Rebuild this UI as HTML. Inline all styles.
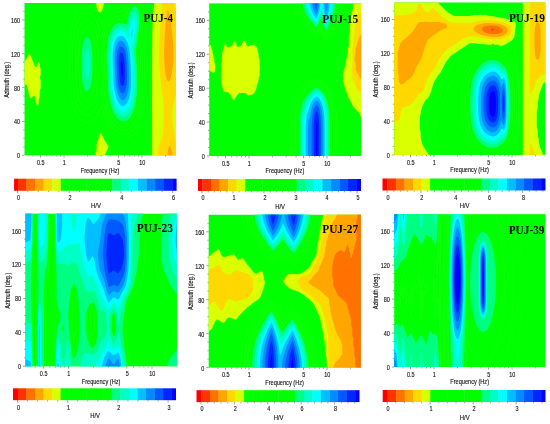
<!DOCTYPE html>
<html lang="en"><head><meta charset="utf-8"><title>H/V rotate spectra</title>
<style>
html,body{margin:0;padding:0;background:#fff;}
body{width:550px;height:424px;overflow:hidden;}
svg{display:block;}
.t{font-family:"Liberation Sans","DejaVu Sans",sans-serif;font-size:7.4px;fill:#111;stroke:#222;stroke-width:0.15px;}
.ttl{font-family:"Liberation Serif","DejaVu Serif",serif;font-weight:bold;font-size:12px;fill:#000;}
</style></head><body>
<svg width="550" height="424" viewBox="0 0 550 424" shape-rendering="geometricPrecision">
<rect width="550" height="424" fill="#ffffff"/>
<g id="p1">
<rect x="24.5" y="3.0" width="151.5" height="152.3" fill="#00ff00"/>
<path fill="none" stroke="#5cff3a" stroke-opacity="0.4" stroke-width="0.45" d="M94.9 3L95.7 5.5L96.2 9L97.2 11L99.7 13.7L100.8 13.7L101.4 13L103.5 9L104.5 6L104.6 3M152.8 3L151.1 18L150.7 31.1L150.4 155.3M24.5 85.1L25.5 85.5L26.5 86.7L26.8 89.2L27.6 91.2L27.8 94.2L28.8 97.2L31.5 99.6L33.5 97.2L34.6 98.2L34.8 102.2L35.8 105.2L37.5 108.4L39.3 105.2L39.4 100.2L40.3 98.2L40.4 91.2L41.3 89.2L41.4 80.2L40.9 77.1L41.3 76.1L41.4 69.1L40.4 66.1L40.3 62.1L38.5 58.9L36.8 63.1L36.5 64.7L35.5 65.3L32.5 58.6L32.3 57.1L29.5 52.7L27.8 54.1L24.5 60.3M105.7 155.3L109.5 147.3L109.5 146.3L105.8 140.9L101.8 133L100.8 131.8L99 133.3L98 136.3L97.7 138.8L96 143.3L95.8 149.3L95 151.3L94.9 155.3M147.2 3L147.8 10L147.5 19L143.9 50.1L144.9 70.5L145.2 90.2L144.5 103.2L143 113.2L140.2 123.2L138.9 126.4L135.9 131.6L132.9 135L129.8 137.3L127.8 138.2L123.8 138.9L119.8 138.2L115.8 135.9L111.8 131.9L109.9 129.2L107.2 124.2L104.6 117.2L101.8 105.5L100.8 106.6L98.7 112.2L96.5 116.2L93.7 119.6L90.7 121.8L87.7 122.6L84.4 122.2L81 120.2L79 118.2L76.9 115.2L74.9 111.2L71.9 101.2L70.1 87.2L69.5 73.1L69.7 49.1L70 42.1L71.1 31.1L73.7 20L76.2 14L78.7 10.1L82 7L84.7 5.7L86.7 5.3L88.7 5.5L92 7L94.3 9L98.3 15L100.3 20L101.8 25.2L105.3 18L109.8 12.2L112.8 9.9L114.8 8.9L120.8 7.6L122.8 4.8L123.4 3M144.9 3L145.8 13L145.4 22L141.9 50.1L143.2 81.2L143 95.2L142 106.2L139.3 118.2L135.7 126.2L132.8 130.3L130.9 132.1L127.8 133.9L123.8 134.7L119.8 134L115.8 131.4L111.4 126.2L108.7 121.2L106.1 114.2L104.1 106.2L101.7 88.2L100.8 87.8L99.6 96.2L97.7 103.6L95.3 109.2L92.4 113.2L90.7 114.6L88.7 115.5L85.7 115.6L82.7 114.1L79.3 110.2L76.1 103.2L73.7 91.5L72.6 74.1L72.6 51.1L73.4 39.1L74 34.1L75.7 26L76.7 23L79.1 18L82.5 14L85.7 12.4L88.7 12.5L91.7 14.2L94.2 17L96.5 21L98.3 26L99.8 33.1L100.8 40.2L104.4 26L107.9 19L110.8 15.5L113.8 13.2L117.8 11.6L122.8 11.2L125.8 3M142.2 3L143.4 9L143.7 17L142.6 30.1L139.9 50.1L140.6 63.1L141.2 84.2L140.9 95.2L139.9 105.2L138.7 111.2L137.3 116.2L135.6 120.2L133.4 124.2L130.9 127.2L128.8 128.8L125.8 130.2L122.8 130.4L119.8 129.6L117.8 128.4L113.7 124.2L109.8 117.3L106.8 108.1L104.8 97.4L103.6 85.2L102.6 61.1L102.7 48.1L103.2 41.1L104.4 34.1L106.2 28L108.6 23L111.8 18.9L115.8 16L119.8 15L123.8 15.6L124.7 14L126.7 7L128.5 3M85.7 19.9L88.7 20.1L90.7 21.4L92.9 24L95.2 29.1L96.5 34.1L97.5 40.1L98.4 56.1L98.2 80.2L97.5 88.2L96.5 94.2L94.7 100.1L92.7 104.2L89.7 107.4L86.7 108.3L84.7 107.7L82 105.2L80.2 102.2L78.6 98.2L77.3 93.2L76.4 87.2L75.6 71.1L75.8 49.1L76.4 41.1L77.3 35.1L78.7 29.5L80.7 24.8L82.7 21.9L85.7 19.9M138.7 3L139.9 5.1L140.9 8.4L141.6 17L140.7 30.1L137.8 50.1L138.6 61.1L139.2 82.2L139 92.2L138.2 101.2L136.2 111.2L134.8 115.2L132.9 119.2L130.7 122.2L127.8 124.7L125.8 125.6L122.8 125.9L119.8 125L117.8 123.7L113.9 119.2L110.8 112.9L108.2 104.2L106.5 94.2L105.3 81.2L104.5 59.1L104.9 46.1L105.5 40.1L106.8 34.1L108.5 29.1L110.7 25L113.8 21.4L116.8 19.5L120.8 18.8L124.8 19.9L125.6 19L127.1 13L128.8 8L132 3M86.7 27.9L88.7 28.4L90.7 30.4L92.5 34.1L93.7 38.1L95.1 48.1L95.4 64.1L95.1 80.2L93.6 90.2L92.4 94.2L90.7 97.6L88.7 99.6L86.7 100.1L84.7 99.2L83 97.2L81.7 94.5L80.4 90.2L78.9 80.2L78.6 64.1L78.9 48.1L80.3 38.1L81.5 34.1L82.9 31.1L84.7 28.8L86.7 27.9"/>
<path fill="#00ff80" d="M133.9 6.6L134.9 6.3L135.9 6.5L136.9 7.2L137.9 8.6L139 12L139.5 17L139.4 23L138.7 30.1L137.2 42.1L135.8 49.1L136.5 61.1L137.1 78.1L137.1 88.2L136.6 96.2L135.9 101.7L134.9 106.6L133.4 111.2L131.9 114.7L129.8 117.8L127.8 119.7L125.8 120.9L124.8 121.2L122.8 121.3L120.8 120.8L118.8 119.6L116.8 117.7L115 115.2L113.4 112.2L112.1 109.2L110.8 105.2L109.8 101.1L108.9 96.2L108.2 91.2L107.2 79.2L106.5 58.1L106.6 52.1L107 46.1L107.8 40.2L108.8 35.9L110.5 31.1L112.2 28L113.8 26L114.8 25L116.8 23.6L118.8 22.9L120.8 22.7L122.8 23.1L124.8 24L125.8 24.7L126.7 24L128.2 17L129.8 12L130.9 9.9L131.9 8.3L132.9 7.3ZM85.7 37.6L86.7 37.1L87.7 37.3L88.7 38L89.7 39.6L90.7 42.1L91.8 48.1L92.4 57.1L92.3 73.1L92 78.1L91.5 82.2L90.7 85.8L89.7 88.4L88.7 90L87.7 90.7L86.7 90.9L85.7 90.4L84.7 89.2L83.7 87L83.1 85.2L82.1 79.2L81.6 71.1L81.6 56.1L82.2 48.1L82.7 44.7L83.7 41.1L84.7 38.8Z"/>
<path fill="#00ffc4" d="M132.9 12.8L133.9 12.1L134.9 12.1L135.9 12.9L136.9 15.3L137.4 20L137.2 26L135.9 37.1L134.9 43.8L133.5 49.1L134.4 59.1L135.1 76.1L135.1 86.2L134.6 94.2L134 99.2L133.1 103.2L132 107.2L130.7 110.2L128.8 113.2L126.8 115.2L124.8 116.3L122.8 116.5L120.8 115.9L118.8 114.5L116.8 112.2L115.8 110.6L114.6 108.2L113.4 105.2L112.2 101.2L111.3 97.2L109.9 88.2L109.1 76.1L108.6 58.1L108.7 52.1L109 47.1L109.9 41.1L111.3 36.1L113.2 32.1L114.6 30.1L115.8 28.8L116.8 28L118.8 27.1L119.8 26.9L121.8 26.9L123.8 27.7L125.7 29.1L126.8 30.2L127.8 30.6L128.8 24L129.8 19.2L130.9 16L131.9 14.1ZM86.7 48.4L87.7 48.8L88.8 52.1L89.3 57.1L89.4 64.1L89.3 71.1L88.8 76.1L87.7 79.2L86.7 79.6L85.7 78L85 74.1L84.7 70.1L84.6 64.1L84.7 57.1L85.1 53.1L85.7 50Z"/>
<path fill="#00ffff" d="M133.9 18.7L134.9 20.2L135.1 22L135.2 25L135 29.1L134 37.1L133.3 41.1L132.5 44.1L131.2 47.1L132.4 58.1L133 73.1L133.1 84.2L132.5 93.2L131.9 97.6L131 101.2L130.1 104.2L128.8 106.9L127.2 109.2L125.8 110.5L124.8 111L123.8 111.3L122.8 111.4L120.8 110.7L119.8 110L118.1 108.2L116.8 106.2L115.8 104.1L114.7 101.2L113.8 98.1L112.9 94.2L111.7 85.2L111 74.1L110.6 58.1L110.7 53.1L111.1 48.1L112.1 42.1L112.8 39.7L113.8 37.1L114.8 35.2L115.8 33.8L116.8 32.8L118.8 31.5L119.8 31.2L121.8 31.3L123.8 32.2L124.9 33.1L126.7 35.1L128.7 38.1L128.8 39.1L129.9 30.1L130.9 24.2L131.9 20.9L132.9 19.1Z"/>
<path fill="#00bfff" d="M132.9 28L132.9 30.4L132.6 31.1L132.4 34.1L131.9 37.4L131.6 37.1L131.3 36.1L131.4 33.1L131.9 29.9L132.6 29.1ZM119.8 35.9L120.8 35.8L121.8 35.9L122.8 36.3L123.8 37L124.8 38L125.8 39.4L127.6 43.1L128.8 47.1L129.6 51.1L130.2 56.1L130.6 63.1L131 75.1L131 82.2L130.8 88.2L130 94.2L128.8 99.2L127.8 101.6L127 103.2L125.8 104.6L124.8 105.4L123.8 105.8L122.8 105.9L121.8 105.7L120.8 105.2L119.8 104.3L118.8 103.1L117.2 100.2L115.8 96.2L114.8 91.9L114 87.2L113.4 81.2L113 74.1L112.6 57.1L112.8 52.1L113.5 47.1L114.4 43.1L115.8 39.7L116.8 38.1L117.8 37L118.8 36.3Z"/>
<path fill="#008cff" d="M119.8 41L120.8 40.8L121.8 40.9L122.8 41.4L124.4 43.1L125.8 45.8L126.9 49.1L127.7 53.1L128.6 62.1L129 79.2L128.8 85.2L128.3 90.2L127.1 95.2L125.8 97.9L124.8 99.2L123.8 99.9L122.8 100.1L121.8 99.9L120.8 99.2L119.8 98L118.8 96.3L117.6 93.2L116.8 90.2L115.9 85.2L115.1 75.1L114.6 60.1L114.7 55.1L115.1 51.1L115.8 47.6L116.8 44.6L117.8 42.8L118.8 41.6Z"/>
<path fill="#0059ff" d="M119.8 46.7L120.8 46.2L121.8 46.4L122.8 47.1L124.1 49.1L124.9 51.1L125.6 54.1L126.5 61.1L127 75.1L126.9 80.2L126.7 84.2L126 88.2L125.1 91.2L123.8 93.1L122.8 93.6L121.8 93.4L120.8 92.5L119.8 90.8L119.2 89.2L118.4 86.2L117.9 83.2L117.2 76.1L116.7 63.1L116.8 56.1L117.2 53.1L117.8 50.3L118.8 47.9Z"/>
<path fill="#0026ff" d="M120.8 52.6L121.8 52.7L122.8 53.9L123.3 55.1L124 58.1L124.6 63.1L124.9 73.1L124.8 79.2L124.4 82.2L124 84.2L122.8 86.1L121.8 86L120.8 84.5L120.4 83.2L119.6 79.2L119.1 74.1L118.7 64.1L118.8 59.1L119.5 55.1L119.8 54Z"/>
<path fill="#0000ff" d="M121.8 60.7L122.4 63.1L122.7 65.1L122.9 72.1L122.8 74.1L122.6 75.1L121.8 76.5L121 72.1L120.7 65.1L120.8 62.8L121 62.1Z"/>
<path fill="#d9ff00" d="M95.7 3L103.9 3L103.9 5L103 7L102.8 8.5L100.8 12.3L99.7 12.6L98.7 11.8L97.7 10.4L96.6 8L96.5 5L95.7 3.5ZM176 3L176 155.3L152.1 155.3L152.1 60.1L152.3 32.1L152.9 15.4L153.9 5.9L154.5 3ZM28.5 54.7L29.5 54.1L30.5 55.5L31.5 57.6L31.8 59.1L33.5 62.6L33.8 64.1L34.9 66.1L35.5 66.8L36.5 66.8L37.2 66.1L37.5 63.7L38.5 62.1L39.5 63L39.8 67.1L40.7 69.1L40.7 75.1L39.8 77.1L39.8 78.1L40.7 80.2L40.7 88.2L39.8 90.2L39.7 97.2L38.8 99.2L38.6 104.2L38.1 105.2L37.5 105.8L36.5 104.6L36.3 103.2L35.5 101.6L35.2 97.2L34.5 96.3L33.5 95.8L31.5 98.2L30.5 97.9L29.9 97.2L29.5 96.6L29.3 95.2L28.5 93.7L28.3 90.2L27.5 88.7L27.3 86.2L26.5 85.2L25.5 84.4L24.5 84.3L24.5 61.8L25.2 61.1ZM99.7 134.1L100.8 133.3L101.8 134.7L105 141.3L106.8 143.6L107 144.3L108.4 146.3L108.4 147.3L107.8 148.9L105 154.3L104.9 155.3L95.6 155.3L95.6 152.3L96.5 150.3L96.6 149.3L96.6 144.3L97.5 142.3L97.7 140.8L98.5 139.3L98.7 136.8L99.5 135.3Z"/>
<path fill="#ffd800" d="M174.4 3L175 7.6L176 12.6L176 94L174 100.7L173 105.5L172.4 111.2L172.3 117.2L172.4 122.2L175.3 139.3L176 145L176 155.3L157.4 155.3L157.7 151.3L158.5 147.3L159.4 144.3L161.8 138.3L162.3 136.3L163 132.2L163.2 128.2L163.7 113.2L163.6 105.2L163 98.3L161.2 86.2L160.1 76.1L159.3 65.1L159 54.1L159.1 46.1L159.5 38.1L162.1 3Z"/>
<path fill="#ffa600" d="M168 9.5L169 12L170 17.8L171.8 31.1L173.1 43.1L173.5 53.1L173.1 63.1L172.6 68.1L171.8 73.1L171 76.6L170 79.8L169 81.5L168 81.6L167 80.1L166.4 78.1L165.9 76.1L165.1 71.1L164.4 62.1L164.1 52.1L164.5 39.1L165.5 25L167 12.3ZM169 145.8L170 145.9L171 148L172 152.1L172.4 155.3L167.5 155.3L168 149.6Z"/>
<text class="t" transform="translate(20.10 158.20) scale(0.740 1)" text-anchor="end">0</text>
<text class="t" transform="translate(20.10 124.36) scale(0.740 1)" text-anchor="end">40</text>
<text class="t" transform="translate(20.10 90.51) scale(0.740 1)" text-anchor="end">80</text>
<text class="t" transform="translate(20.10 56.67) scale(0.740 1)" text-anchor="end">120</text>
<text class="t" transform="translate(20.10 22.82) scale(0.740 1)" text-anchor="end">160</text>
<text class="t" transform="translate(40.82 164.80) scale(0.740 1)" text-anchor="middle">0.5</text>
<text class="t" transform="translate(64.30 164.80) scale(0.740 1)" text-anchor="middle">1</text>
<text class="t" transform="translate(118.82 164.80) scale(0.740 1)" text-anchor="middle">5</text>
<text class="t" transform="translate(142.30 164.80) scale(0.740 1)" text-anchor="middle">10</text>
<g stroke="#444" stroke-width="0.5"><line x1="22.10" y1="155.30" x2="24.50" y2="155.30"/><line x1="23.20" y1="146.84" x2="24.50" y2="146.84"/><line x1="23.20" y1="138.38" x2="24.50" y2="138.38"/><line x1="23.20" y1="129.92" x2="24.50" y2="129.92"/><line x1="22.10" y1="121.46" x2="24.50" y2="121.46"/><line x1="23.20" y1="112.99" x2="24.50" y2="112.99"/><line x1="23.20" y1="104.53" x2="24.50" y2="104.53"/><line x1="23.20" y1="96.07" x2="24.50" y2="96.07"/><line x1="22.10" y1="87.61" x2="24.50" y2="87.61"/><line x1="23.20" y1="79.15" x2="24.50" y2="79.15"/><line x1="23.20" y1="70.69" x2="24.50" y2="70.69"/><line x1="23.20" y1="62.23" x2="24.50" y2="62.23"/><line x1="22.10" y1="53.77" x2="24.50" y2="53.77"/><line x1="23.20" y1="45.31" x2="24.50" y2="45.31"/><line x1="23.20" y1="36.84" x2="24.50" y2="36.84"/><line x1="23.20" y1="28.38" x2="24.50" y2="28.38"/><line x1="22.10" y1="19.92" x2="24.50" y2="19.92"/><line x1="23.20" y1="11.46" x2="24.50" y2="11.46"/><line x1="32.96" y1="155.30" x2="32.96" y2="156.60"/><line x1="40.52" y1="155.30" x2="40.52" y2="157.70"/><line x1="46.70" y1="155.30" x2="46.70" y2="156.60"/><line x1="51.92" y1="155.30" x2="51.92" y2="156.60"/><line x1="56.44" y1="155.30" x2="56.44" y2="156.60"/><line x1="60.43" y1="155.30" x2="60.43" y2="156.60"/><line x1="64.00" y1="155.30" x2="64.00" y2="157.70"/><line x1="87.48" y1="155.30" x2="87.48" y2="156.60"/><line x1="101.22" y1="155.30" x2="101.22" y2="156.60"/><line x1="110.96" y1="155.30" x2="110.96" y2="156.60"/><line x1="118.52" y1="155.30" x2="118.52" y2="157.70"/><line x1="124.70" y1="155.30" x2="124.70" y2="156.60"/><line x1="129.92" y1="155.30" x2="129.92" y2="156.60"/><line x1="134.44" y1="155.30" x2="134.44" y2="156.60"/><line x1="138.43" y1="155.30" x2="138.43" y2="156.60"/><line x1="142.00" y1="155.30" x2="142.00" y2="157.70"/><line x1="165.48" y1="155.30" x2="165.48" y2="156.60"/></g>
<text class="t" transform="translate(100.05 172.70) scale(0.760 1)" text-anchor="middle">Frequency (Hz)</text>
<text class="t" transform="translate(8.60 79.85) rotate(-90) scale(0.750 1)" text-anchor="middle">Azimuth (deg.)</text>
<text class="ttl" x="172.90" y="22.30" text-anchor="end" textLength="29.3" lengthAdjust="spacingAndGlyphs">PUJ-4</text>
<rect x="14.10" y="178.70" width="4.10" height="12.10" fill="#ff0000"/>
<rect x="17.90" y="178.70" width="8.87" height="12.10" fill="#ff3300"/>
<rect x="26.47" y="178.70" width="8.87" height="12.10" fill="#ff7200"/>
<rect x="35.04" y="178.70" width="8.87" height="12.10" fill="#ffa600"/>
<rect x="43.62" y="178.70" width="8.87" height="12.10" fill="#ffd800"/>
<rect x="52.19" y="178.70" width="8.87" height="12.10" fill="#d9ff00"/>
<rect x="60.76" y="178.70" width="8.87" height="12.10" fill="#00ff00"/>
<rect x="69.33" y="178.70" width="8.87" height="12.10" fill="#00ff00"/>
<rect x="77.91" y="178.70" width="8.87" height="12.10" fill="#00ff00"/>
<rect x="86.48" y="178.70" width="8.87" height="12.10" fill="#00ff00"/>
<rect x="95.05" y="178.70" width="8.87" height="12.10" fill="#00ff00"/>
<rect x="103.62" y="178.70" width="8.87" height="12.10" fill="#00ff00"/>
<rect x="112.19" y="178.70" width="8.87" height="12.10" fill="#00ff80"/>
<rect x="120.77" y="178.70" width="8.87" height="12.10" fill="#00ffc4"/>
<rect x="129.34" y="178.70" width="8.87" height="12.10" fill="#00ffff"/>
<rect x="137.91" y="178.70" width="8.87" height="12.10" fill="#00bfff"/>
<rect x="146.48" y="178.70" width="8.87" height="12.10" fill="#008cff"/>
<rect x="155.06" y="178.70" width="8.87" height="12.10" fill="#0059ff"/>
<rect x="163.63" y="178.70" width="8.87" height="12.10" fill="#0026ff"/>
<rect x="172.20" y="178.70" width="4.40" height="12.10" fill="#0000ff"/>
<g stroke="#444" stroke-width="0.5"><line x1="17.50" y1="190.80" x2="17.50" y2="193.20"/><line x1="27.84" y1="190.80" x2="27.84" y2="192.10"/><line x1="38.18" y1="190.80" x2="38.18" y2="192.10"/><line x1="48.52" y1="190.80" x2="48.52" y2="192.10"/><line x1="58.86" y1="190.80" x2="58.86" y2="192.10"/><line x1="69.20" y1="190.80" x2="69.20" y2="193.20"/><line x1="79.54" y1="190.80" x2="79.54" y2="192.10"/><line x1="89.88" y1="190.80" x2="89.88" y2="192.10"/><line x1="100.22" y1="190.80" x2="100.22" y2="192.10"/><line x1="110.56" y1="190.80" x2="110.56" y2="192.10"/><line x1="120.90" y1="190.80" x2="120.90" y2="193.20"/><line x1="131.24" y1="190.80" x2="131.24" y2="192.10"/><line x1="141.58" y1="190.80" x2="141.58" y2="192.10"/><line x1="151.92" y1="190.80" x2="151.92" y2="192.10"/><line x1="162.26" y1="190.80" x2="162.26" y2="192.10"/><line x1="172.60" y1="190.80" x2="172.60" y2="193.20"/></g>
<text class="t" transform="translate(18.40 200.10) scale(0.740 1)" text-anchor="middle">0</text>
<text class="t" transform="translate(70.10 200.10) scale(0.740 1)" text-anchor="middle">2</text>
<text class="t" transform="translate(121.80 200.10) scale(0.740 1)" text-anchor="middle">4</text>
<text class="t" transform="translate(173.50 200.10) scale(0.740 1)" text-anchor="middle">6</text>
<text class="t" transform="translate(95.95 208.30) scale(0.800 1)" text-anchor="middle">H/V</text>
</g>
<g id="p2">
<rect x="209.2" y="3.4" width="151.9" height="152.6" fill="#00ff00"/>
<path fill="none" stroke="#5cff3a" stroke-opacity="0.4" stroke-width="0.45" d="M353.2 3.4L352.3 5.4L352.2 8.4L351.3 10.4L351 13.9L350.3 15.4L350.1 20.5L349.3 22.5L349.1 32.5L348.2 35.5L348.1 45.6L347.3 47.6L347.1 52.6L346.3 54.6L346.1 57.6L345.3 59.6L345 63.1L344.3 64.6L344 67.1L343.2 68.7L343 71.2L342.2 72.7L342.1 80.7L343 83.2L343.2 85.7L345.3 91.7L347 95.3L347.3 96.8L352.3 106.8L358.8 113.8L360.5 118.9L361.1 119.5M209.2 71L212.2 73.4L214.2 73.4L216 71.7L216.1 67.7L216 63.6L215.2 62.1L215 58.6L214.1 56.6L214 53.6L213.2 52.1L211.9 45.6L209.2 43.8M244.4 38.3L242.7 40.5L240.4 45L239.4 45.8L238.4 45.9L237.4 45L236 40.5L235.4 39.9L234.3 39.9L233.7 40.5L230.7 45.6L228.3 46.6L227.3 45.8L227.1 44.6L225.3 41.3L223.5 44.6L223.3 47.1L221.5 51.6L221.4 60.6L220.4 63.6L220.5 83.7L221.3 85.2L221.5 87.7L222.5 90.7L223.8 92.8L224.3 93.2L226.7 92.8L228.3 93.7L230.3 96.1L232.1 99.8L233.3 101.2L235.4 99.7L238.4 94.8L239.9 93.8L244.9 93.8L248.4 96.5L252.5 95.5L253.5 94.7L255.2 92.8L257.2 88.7L257.5 86.2L259.2 81.7L259.4 78.7L260.3 76.7L260.4 69.7L261.1 67.7L260.4 65.6L260.3 58.6L259.4 56.6L259.2 52.6L258.5 51.1L258.2 48.6L256.4 45.6L253.5 43.8L252.5 43.8L248.4 45.1L247.4 44.7L247.2 43.6L244.4 38.3M337 57.2L336.2 58.6L336.1 68.7L336.3 69.7L338 71.1L338.8 69.7L338.8 59.6L338.7 58.6L337 57.2M343.7 3.4L342.2 12.4L339 21.7L332.9 32.5L325.9 41.4L319.9 30.8L316.8 35.2L315.8 35.2L308.8 29.2L303.2 23.5L298.5 17.5L296.7 14.4L294.1 8.4L292.9 3.4M290.7 156L290.9 118.9L291.8 108.8L294.1 98.8L297.9 90.7L299.7 88.1L303 84.7L307.9 81.7L309.8 81.4L314.8 79.3L316.8 79L319.9 79.8L321.9 80.9L323.9 82.3L327.4 85.7L331.4 91.7L332.8 94.8L334.7 100.8L336.1 108.8L336.8 119.9L336.9 156M341.7 3.4L340.2 12.4L337 21.7L330.9 32.5L325.9 39L320.9 29.4L319.9 28.6L316.8 33.3L315.8 33.3L306.4 24.5L301.6 18.5L298.1 12.4L295.9 6.4L295.3 3.4M292.8 156L293 118.9L293.9 109.8L296.2 99.8L298.7 93.9L303.3 87.7L307.8 84.6L313.8 81.7L316.8 80.9L319.9 81.9L321.9 83.1L323.9 84.7L327.5 88.7L331.2 95.8L333.1 101.8L334.4 109.8L335.1 120.9L335.1 156M339.7 3.4L338.3 12.4L334.9 21.8L331.5 28.5L325.9 36.5L320.9 26L319.9 26.3L316.8 31.3L315.8 31.3L306.8 22.1L302.7 16.5L301 13.4L298.5 7.4L297.7 3.4M295 156L295.2 118.9L296.1 109.8L297.7 102.4L299.9 96.8L303.9 90.7L305.8 89L310.8 85.5L314.8 83.5L316.8 83.1L320.9 84.8L322.9 86.4L325.9 89.8L328.3 93.8L329.6 96.8L331.4 102.8L332.7 110.8L333.3 121.9L333.4 156M337.8 3.4L337 9.4L334.4 18.5L329.5 28.5L325.9 33.7L320.9 22L316.8 29.2L315.8 29.1L310.3 23.5L307.8 20.4L303.9 14.4L301.2 8.4L300.1 3.4M297.1 156L297.3 120.9L298 111.8L299.4 104.8L302.1 97.8L304.8 93.7L311.4 87.7L314.8 85.8L316.8 85.3L320.1 86.7L321.9 88.2L324.9 91.7L328.4 98.8L330 104.8L331.4 117.9L331.6 156"/>
<path fill="#00ff80" d="M335.8 3.4L335.5 6.4L334.8 10.4L332.8 17.5L331.1 21.5L329.2 25.5L326.9 29.5L325.9 30.7L323.6 25.5L321.5 19.5L320.9 18.4L319.1 22.5L316.8 26.9L315.8 26.8L311.8 22.5L308.1 17.5L305.2 12.4L303.3 7.4L302.5 3.4ZM314.8 88.3L316.8 87.7L317.8 88L319.9 89.2L322.4 91.7L324.5 94.8L325.9 97.6L327.1 100.8L328.1 104.8L329.2 111.8L329.8 119.9L329.9 130.9L329.9 156L299.3 156L299.2 134.9L299.3 122.9L299.9 114.8L301.1 107.8L302.8 102.3L303.9 99.8L305.1 97.8L309.2 92.8L310.8 91.1L312.8 89.5Z"/>
<path fill="#00ffc4" d="M333.8 3.4L333 9.4L331.5 15.4L328.7 22.5L326.9 26.1L325.9 27.5L323.6 21.5L321.9 15.1L320.9 14.6L319.1 19.5L316.8 24.4L315.8 24.3L314.2 22.5L311.8 19.5L309.8 16.5L307.2 11.4L305.7 7.4L305 4.4L304.8 3.4ZM315.8 90.6L316.8 90.4L317.8 90.7L318.8 91.3L320.4 92.8L322.1 94.8L323.3 96.8L324.7 99.8L325.7 102.8L326.7 106.8L327.6 113.8L328.1 121.9L328.1 156L301.5 156L301.3 137.9L301.5 123.9L302 115.8L303 109.8L303.8 106.8L304.9 103.8L305.9 101.8L309.1 96.8L310.8 94.4L312.5 92.8L313.8 91.7Z"/>
<path fill="#00ffff" d="M331.8 3.4L331 9.4L329.8 14.4L327.6 20.5L326.9 22.1L325.9 23.7L324.5 19.5L323.2 14.4L322.4 10.4L321.9 6.1L319.6 14.4L318.2 18.5L316.8 21.6L315.8 21.6L312.2 16.5L309.5 11.4L308.4 8.4L307.6 5.4L307.2 3.4ZM315.8 93.6L316.8 93.3L317.9 93.8L319.9 95.5L321.5 97.8L322.5 99.8L323.7 102.8L325.2 108.8L325.9 114.8L326.3 122.9L326.3 156L303.7 156L303.5 146L303.6 125.9L304 118.9L304.8 112.8L305.5 109.8L306.6 106.8L310 99.8L311.2 97.8L312.8 95.8L314 94.8Z"/>
<path fill="#00bfff" d="M320.4 3.4L320 6.4L319.3 10.4L318.2 14.4L316.8 18.5L315.8 18.4L314 15.4L312.4 12.4L310.5 7.4L309.8 4.4L309.6 3.4ZM329.8 3.4L329.4 7.4L328.4 12.4L326.9 17.2L325.9 19.2L324.4 13.4L323.6 8.4L323.1 3.4ZM316.8 96.6L317.8 97.1L318.8 98.1L319.9 99.4L321.1 101.8L321.9 103.8L322.8 106.8L323.8 111.8L324.3 117.9L324.6 124.9L324.6 156L305.8 156L305.6 147L305.7 127.9L306.1 120.9L306.7 115.8L307.8 111.7L308.8 109.6L310.3 104.8L311.6 101.8L313.8 98.6L315.8 97Z"/>
<path fill="#008cff" d="M319 3.4L318.2 9.4L316.8 14.7L315.8 14.5L313.5 9.4L312.6 6.4L312 3.4ZM327.9 3.4L327.1 9.4L325.9 13.3L324.8 6.4L324.6 3.4ZM316.8 100.4L317.8 101.1L318.4 101.8L320 104.8L321.3 108.8L322.3 114.8L322.7 119.9L322.9 126.9L322.8 156L308.1 156L307.8 149L307.8 131.9L308 125.9L308.5 120.9L308.8 119.3L309.8 118.5L311 110.8L312.5 105.8L313.8 103.2L314.8 101.8L315.8 100.9Z"/>
<path fill="#0059ff" d="M317.7 3.4L316.8 9.5L315.8 9.3L315.5 8.4L314.4 3.4ZM315.8 105.7L316.8 105L317.8 106L318.7 107.8L319.9 111.8L320.6 116.8L321.1 127.9L321.1 156L311.7 156L311.6 130.9L312 119.9L312.5 114.8L313.4 110.8L314.5 107.8Z"/>
<path fill="#0026ff" d="M316.8 110.9L317.8 112.9L318.3 114.8L318.8 118.1L319.2 122.9L319.4 133.9L319.3 156L313.9 156L313.7 132.9L314 121.9L314.4 117.9L315 114.8L315.8 112.2Z"/>
<path fill="#0000ff" d="M316.8 120.5L317.3 123.9L317.6 128.9L317.6 150L317.3 156L316.2 156L315.8 149L315.8 129.9L316.1 124.9Z"/>
<path fill="#d9ff00" d="M361.1 3.4L361.1 117.5L361 116.8L360.1 115.3L359.8 113.8L359.1 112.8L354 107.8L353.1 106.4L349 98.4L348 96.3L347.8 94.8L346 91.3L345.8 89.7L345 88.2L344.8 86.7L344 85.2L343.7 82.7L342.9 80.7L342.9 73.7L343.7 71.7L344 69.2L344.8 67.7L345 65.2L345.8 63.6L345.9 60.6L346.8 58.6L347 55.1L347.8 53.6L347.9 48.6L348.8 46.6L348.9 35.5L349.8 33.5L349.9 23.5L350.8 21.5L350.9 16.5L351.8 14.4L351.9 11.4L352.8 9.4L353.1 5.9L353.8 4.4L353.9 3.4ZM244.4 40.5L245.4 41.9L246.4 44L246.8 45.6L247.4 46.2L248.4 46.3L249.9 45.6L251.5 45.3L252.5 44.9L253.5 44.9L255.1 45.6L256.2 46.6L257.5 49.1L257.7 51.6L258.6 53.6L258.7 57.6L259.6 59.6L259.6 65.6L259.9 67.7L259.6 69.7L259.6 75.7L258.7 77.7L258.5 81.2L257.7 82.7L257.5 84.2L256.7 85.7L256.5 88.2L254.5 92.4L253.5 93.8L251.9 94.8L250.4 95L249.4 95.4L248.4 95.4L247.4 94.8L245.4 93L242.4 92.9L239.4 93L238.4 93.8L236.6 95.8L235 98.8L234.3 99.5L233.3 99.8L232.3 98.4L231.1 95.8L228.3 92.8L227.3 92L224.2 91.7L223.3 90.2L223 88.7L222.3 87.2L222 84.7L221.3 83.2L221.1 81.7L221.2 63.6L222 61.6L222.1 60.6L222.2 52.6L223 50.6L223.3 49.1L224 47.6L224.3 45.2L225.3 44L226.3 45.2L226.6 46.6L227.3 47.3L228.3 47.4L229.3 47.3L231.3 46.3L232.1 45.6L233.3 42.9L234.3 41.4L235 41.6L235.4 41.7L235.5 42.6L236.4 44.1L236.6 45.6L237.4 46.5L238.4 47.1L240.4 46.3L241.1 45.6L243.4 41.2ZM210.6 45.6L211.3 46.6L211.5 48.6L212.3 50.6L212.5 52.6L213.3 54.6L213.5 57.6L214.3 59.6L214.5 62.6L215.3 64.6L215.2 71.1L214.2 72.4L213.2 72.7L212.2 72.4L211.2 71.7L209.2 69.9L209.2 44.9Z"/>
<path fill="#ffd800" d="M359.1 12.1L361.1 11.9L361.1 93L359.1 92.1L357.8 90.7L357.4 89.7L356.7 88.7L356.4 87.7L353.7 82.7L353.4 80.7L352.7 79.7L352.6 78.7L352.5 73.7L352.4 72.7L351.7 71.7L351.6 70.7L351.7 67.7L352.4 66.6L352.5 65.6L352.6 48.6L352.7 47.6L353.4 46.6L353.5 45.6L353.6 36.5L353.7 35.5L354.4 34.5L354.5 33.5L354.6 27.5L354.8 26.5L355.4 25.5L355.5 24.5L355.8 20.5L356.4 19.5L356.8 17.5L357.4 16.5L357.8 13.4Z"/>
<path fill="#ffa600" d="M361.1 34.5L361.1 78.9L359.8 77.7L359.4 76.7L358.8 75.7L358.4 74.7L355.8 69.7L355.6 68.7L355.5 63.6L355.4 62.6L354.8 61.6L354.6 58.6L354.8 55.6L355.4 54.6L355.5 53.6L355.6 48.6L355.8 47.6L356.4 46.6L356.8 44.6L357.4 43.6L357.8 41.6L358.4 40.5L358.8 38.5L359.4 37.5L359.8 36.5Z"/>
<text class="t" transform="translate(204.80 158.90) scale(0.740 1)" text-anchor="end">0</text>
<text class="t" transform="translate(204.80 124.99) scale(0.740 1)" text-anchor="end">40</text>
<text class="t" transform="translate(204.80 91.08) scale(0.740 1)" text-anchor="end">80</text>
<text class="t" transform="translate(204.80 57.17) scale(0.740 1)" text-anchor="end">120</text>
<text class="t" transform="translate(204.80 23.26) scale(0.740 1)" text-anchor="end">160</text>
<text class="t" transform="translate(225.82 165.50) scale(0.740 1)" text-anchor="middle">0.5</text>
<text class="t" transform="translate(249.30 165.50) scale(0.740 1)" text-anchor="middle">1</text>
<text class="t" transform="translate(303.82 165.50) scale(0.740 1)" text-anchor="middle">5</text>
<text class="t" transform="translate(327.30 165.50) scale(0.740 1)" text-anchor="middle">10</text>
<g stroke="#444" stroke-width="0.5"><line x1="206.80" y1="156.00" x2="209.20" y2="156.00"/><line x1="207.90" y1="147.52" x2="209.20" y2="147.52"/><line x1="207.90" y1="139.04" x2="209.20" y2="139.04"/><line x1="207.90" y1="130.57" x2="209.20" y2="130.57"/><line x1="206.80" y1="122.09" x2="209.20" y2="122.09"/><line x1="207.90" y1="113.61" x2="209.20" y2="113.61"/><line x1="207.90" y1="105.13" x2="209.20" y2="105.13"/><line x1="207.90" y1="96.66" x2="209.20" y2="96.66"/><line x1="206.80" y1="88.18" x2="209.20" y2="88.18"/><line x1="207.90" y1="79.70" x2="209.20" y2="79.70"/><line x1="207.90" y1="71.22" x2="209.20" y2="71.22"/><line x1="207.90" y1="62.74" x2="209.20" y2="62.74"/><line x1="206.80" y1="54.27" x2="209.20" y2="54.27"/><line x1="207.90" y1="45.79" x2="209.20" y2="45.79"/><line x1="207.90" y1="37.31" x2="209.20" y2="37.31"/><line x1="207.90" y1="28.83" x2="209.20" y2="28.83"/><line x1="206.80" y1="20.36" x2="209.20" y2="20.36"/><line x1="207.90" y1="11.88" x2="209.20" y2="11.88"/><line x1="217.96" y1="156.00" x2="217.96" y2="157.30"/><line x1="225.52" y1="156.00" x2="225.52" y2="158.40"/><line x1="231.70" y1="156.00" x2="231.70" y2="157.30"/><line x1="236.92" y1="156.00" x2="236.92" y2="157.30"/><line x1="241.44" y1="156.00" x2="241.44" y2="157.30"/><line x1="245.43" y1="156.00" x2="245.43" y2="157.30"/><line x1="249.00" y1="156.00" x2="249.00" y2="158.40"/><line x1="272.48" y1="156.00" x2="272.48" y2="157.30"/><line x1="286.22" y1="156.00" x2="286.22" y2="157.30"/><line x1="295.96" y1="156.00" x2="295.96" y2="157.30"/><line x1="303.52" y1="156.00" x2="303.52" y2="158.40"/><line x1="309.70" y1="156.00" x2="309.70" y2="157.30"/><line x1="314.92" y1="156.00" x2="314.92" y2="157.30"/><line x1="319.44" y1="156.00" x2="319.44" y2="157.30"/><line x1="323.43" y1="156.00" x2="323.43" y2="157.30"/><line x1="327.00" y1="156.00" x2="327.00" y2="158.40"/><line x1="350.48" y1="156.00" x2="350.48" y2="157.30"/></g>
<text class="t" transform="translate(284.95 173.40) scale(0.760 1)" text-anchor="middle">Frequency (Hz)</text>
<text class="t" transform="translate(193.30 80.40) rotate(-90) scale(0.750 1)" text-anchor="middle">Azimuth (deg.)</text>
<text class="ttl" x="358.20" y="22.70" text-anchor="end" textLength="36.0" lengthAdjust="spacingAndGlyphs">PUJ-15</text>
<rect x="198.00" y="179.00" width="4.70" height="12.00" fill="#ff0000"/>
<rect x="202.40" y="179.00" width="8.87" height="12.00" fill="#ff3300"/>
<rect x="210.97" y="179.00" width="8.87" height="12.00" fill="#ff7200"/>
<rect x="219.53" y="179.00" width="8.87" height="12.00" fill="#ffa600"/>
<rect x="228.10" y="179.00" width="8.87" height="12.00" fill="#ffd800"/>
<rect x="236.67" y="179.00" width="8.87" height="12.00" fill="#d9ff00"/>
<rect x="245.23" y="179.00" width="8.87" height="12.00" fill="#00ff00"/>
<rect x="253.80" y="179.00" width="8.87" height="12.00" fill="#00ff00"/>
<rect x="262.37" y="179.00" width="8.87" height="12.00" fill="#00ff00"/>
<rect x="270.93" y="179.00" width="8.87" height="12.00" fill="#00ff00"/>
<rect x="279.50" y="179.00" width="8.87" height="12.00" fill="#00ff00"/>
<rect x="288.07" y="179.00" width="8.87" height="12.00" fill="#00ff00"/>
<rect x="296.63" y="179.00" width="8.87" height="12.00" fill="#00ff80"/>
<rect x="305.20" y="179.00" width="8.87" height="12.00" fill="#00ffc4"/>
<rect x="313.77" y="179.00" width="8.87" height="12.00" fill="#00ffff"/>
<rect x="322.33" y="179.00" width="8.87" height="12.00" fill="#00bfff"/>
<rect x="330.90" y="179.00" width="8.87" height="12.00" fill="#008cff"/>
<rect x="339.47" y="179.00" width="8.87" height="12.00" fill="#0059ff"/>
<rect x="348.03" y="179.00" width="8.87" height="12.00" fill="#0026ff"/>
<rect x="356.60" y="179.00" width="4.40" height="12.00" fill="#0000ff"/>
<g stroke="#444" stroke-width="0.5"><line x1="202.00" y1="191.00" x2="202.00" y2="193.40"/><line x1="208.20" y1="191.00" x2="208.20" y2="192.30"/><line x1="214.40" y1="191.00" x2="214.40" y2="192.30"/><line x1="220.60" y1="191.00" x2="220.60" y2="192.30"/><line x1="226.80" y1="191.00" x2="226.80" y2="192.30"/><line x1="233.00" y1="191.00" x2="233.00" y2="193.40"/><line x1="239.20" y1="191.00" x2="239.20" y2="192.30"/><line x1="245.40" y1="191.00" x2="245.40" y2="192.30"/><line x1="251.60" y1="191.00" x2="251.60" y2="192.30"/><line x1="257.80" y1="191.00" x2="257.80" y2="192.30"/><line x1="264.00" y1="191.00" x2="264.00" y2="193.40"/><line x1="270.20" y1="191.00" x2="270.20" y2="192.30"/><line x1="276.40" y1="191.00" x2="276.40" y2="192.30"/><line x1="282.60" y1="191.00" x2="282.60" y2="192.30"/><line x1="288.80" y1="191.00" x2="288.80" y2="192.30"/><line x1="295.00" y1="191.00" x2="295.00" y2="193.40"/><line x1="301.20" y1="191.00" x2="301.20" y2="192.30"/><line x1="307.40" y1="191.00" x2="307.40" y2="192.30"/><line x1="313.60" y1="191.00" x2="313.60" y2="192.30"/><line x1="319.80" y1="191.00" x2="319.80" y2="192.30"/><line x1="326.00" y1="191.00" x2="326.00" y2="193.40"/><line x1="332.20" y1="191.00" x2="332.20" y2="192.30"/><line x1="338.40" y1="191.00" x2="338.40" y2="192.30"/><line x1="344.60" y1="191.00" x2="344.60" y2="192.30"/><line x1="350.80" y1="191.00" x2="350.80" y2="192.30"/><line x1="357.00" y1="191.00" x2="357.00" y2="193.40"/></g>
<text class="t" transform="translate(202.90 200.30) scale(0.740 1)" text-anchor="middle">0</text>
<text class="t" transform="translate(233.90 200.30) scale(0.740 1)" text-anchor="middle">1</text>
<text class="t" transform="translate(264.90 200.30) scale(0.740 1)" text-anchor="middle">2</text>
<text class="t" transform="translate(295.90 200.30) scale(0.740 1)" text-anchor="middle">3</text>
<text class="t" transform="translate(326.90 200.30) scale(0.740 1)" text-anchor="middle">4</text>
<text class="t" transform="translate(357.90 200.30) scale(0.740 1)" text-anchor="middle">5</text>
<text class="t" transform="translate(280.10 208.50) scale(0.800 1)" text-anchor="middle">H/V</text>
</g>
<g id="p3">
<rect x="394.2" y="2.5" width="151.1" height="152.5" fill="#00ff00"/>
<path fill="none" stroke="#5cff3a" stroke-opacity="0.4" stroke-width="0.45" d="M515.8 2.5L515.7 11.5L515.3 12.8L514.3 13.3L501.3 10.2L481.3 7.2L471.3 8.2L467.2 9L457.2 8.9L454.2 7.6L451.1 5.5L449 3.5L448.4 2.5M545.3 128.7L544.1 124.9L543.9 122.9L543.9 113.9L545.3 109M435.7 155L435 151L430.2 143.4L428.8 140L427.8 134.9L427.6 129.9L426.8 125.9L426.8 119.9L429.2 108.7L431.2 105.1L433.7 102.8L435.6 99.8L438.4 92.8L440.5 85.8L443.5 80.8L446.5 76.7L452.2 65.6L457.2 60.3L471.3 51L472.3 50.6L474.3 50.6L475.3 49.9L476.3 49.9L478.3 48.1L479.3 48.1L480.3 47.2L481.3 47.1L482.3 46.2L484.3 46.2L485.3 45.3L491.3 45.2L492.3 44.3L493.3 44.3L494.3 45.2L498.3 45.3L499.3 46.2L501.3 46.3L503.3 48.1L504.3 48.2L507.3 50.8L508.3 51L512.3 48.6L514.3 47.9L515.3 48.4L515.6 49.7L515.8 63.7L516.3 66.8L517 67.7L517.1 70.7L517.9 71.7L518 74.7L518.8 75.7L519 82.8L519.8 83.8L519.9 94.8L519.7 124.9L518.9 125.9L518.8 131.9L518 132.9L517.9 136.9L517.1 137.9L517 140L516.2 141L516.2 143L515.8 144L515.8 155M443.2 155L442.9 151L442.2 148.7L437 140L435.3 133.9L434.3 124.9L434.3 120.9L436.7 110.9L439.3 107.8L442 103.8L445.6 94.8L448 87.8L452.9 80.8L458.7 69.7L460.2 67.9L466.2 63.3L471.3 56.2L475.3 52.5L477.8 50.7L481.6 48.7L486.3 47L493.3 46.2L499.3 47.4L503.4 49.7L507.3 53.1L510.3 57L513.4 62.7L515.5 68.7L518 80.8L518.8 91.8L518.9 110.9L518.7 117.9L517.7 128.9L516.2 136.9L515 141L512.6 147L508.3 154L508.3 155M479.3 155L478.3 154L477.3 154L471.3 148L471.3 147L469.2 145L469.2 144L467.2 142L467.2 141L466.2 140L466.2 137.9L465.2 136.9L465.2 134.9L464.2 133.9L464.2 131.9L463.2 130.9L463.2 126.9L462.2 125.9L462.2 116.9L461.2 115.9L461.2 92.8L462.2 91.8L462.4 82.8L463.3 81.8L463.6 77.7L464.3 76.7L464.6 74.7L467.2 68L470.2 62.7L473.3 58.7L477.6 54.7L483.3 51.5L487.3 50.2L493.3 49.5L497.3 50.1L501.3 51.9L505.3 55.1L509.5 60.7L512.4 66.7L514.5 73.7L516.4 86.8L516.8 111.9L516.3 123L515 131.9L513.2 138.9L510.8 145L507.8 150L502.9 155M490.9 155L487.3 154.4L483.3 152.9L477.3 148.8L473.3 144.4L469.1 136.9L467.1 130.9L465.6 122.9L464.9 113.9L464.8 96.8L465.5 85.8L467 77.7L468.9 71.7L471.9 65.7L475.3 61.2L477.3 59.2L481.3 56.2L487.3 53.6L493.3 52.9L497.5 53.7L501.4 55.7L505.3 58.8L508.3 63.7L511 69.7L512.7 75.7L514 83.8L514.7 94.8L514.4 119.9L513.3 129.3L510.7 138.9L508.3 144.3L505.3 149.2L499.3 153.6L494.6 155M490.3 56.6L494.3 56.4L497.3 57.2L500.3 58.8L505.3 62.6L508.8 70.7L510.6 76.7L512 84.8L512.6 94.8L512.7 109.9L512.3 119.9L511.1 128.9L509.3 135.9L506.3 143.4L504.7 146L503.3 146.6L500.6 149L498.3 150.4L496.3 151.2L493.3 151.6L488.3 151L483.3 149.1L478.3 145.3L474.7 141L471.5 134.9L469.5 128.9L468.2 121.9L467.5 112.9L467.5 97.8L467.9 88.8L469.1 80.8L471.3 73.7L474.9 66.7L479.3 61.8L484.3 58.4L490.3 56.6"/>
<path fill="#00ff80" d="M488.3 60.6L490.3 60.2L492.3 60L494.3 60L496.3 60.5L499.3 62L502.3 64.7L503.3 65.3L504.3 65.5L505.3 66.7L506.5 69.7L508.9 79.8L509.9 85.8L510.4 91.8L510.6 98.8L510.6 108.8L510.2 119.9L509 127.9L506.3 138.9L505.3 141.3L504.3 142.5L503.3 142.7L502.3 143.3L500.3 145.2L497.6 147L495.3 147.8L493.3 148L490.3 147.8L488.3 147.4L486.3 146.7L484.3 145.7L482.3 144.3L480.3 142.6L477.1 138.9L475.9 136.9L474.3 133.9L472.5 128.9L471.2 122.9L470.3 114.9L470.1 101.8L470.4 91.8L471.3 84.7L472.1 80.8L472.9 77.7L474 74.7L475.5 71.7L477.3 68.9L479.3 66.4L481.3 64.5L483.3 63L485.5 61.7Z"/>
<path fill="#00ffc4" d="M492.3 63.7L495.3 64L497.3 64.8L499.9 66.7L502.3 69.4L503.3 69.2L504.3 69.6L505.3 71.1L506.4 74.7L507.7 82.8L508.1 87.8L508.6 98.8L508.5 110.9L508 121.9L506.9 130.9L506.3 133.9L505.6 135.9L505.3 136.9L504.3 138.4L503.3 138.8L502.3 138.6L500.3 141L498.3 142.6L496.3 143.7L493.3 144.3L491.3 144.2L489.3 143.8L487.3 143.1L485 142L483.3 140.7L481.3 138.9L479.7 136.9L478.3 134.8L475.9 129.9L474.2 123.9L473.2 116.9L472.8 108.8L472.9 96.8L473.3 89.8L474.5 82.8L475.3 79.8L476.5 76.7L477.9 73.7L479.3 71.6L481.3 69.1L483.3 67.3L485.3 65.9L487.3 64.9L489.3 64.2Z"/>
<path fill="#00ffff" d="M491.3 67.7L494.3 67.7L496.3 68.3L498.3 69.6L499.3 70.5L502.3 74.5L503.3 73.4L504.3 73.8L505.3 75.8L506.4 80.8L507 86.8L507.4 94.8L507.4 109.9L507.1 118.9L506.4 126.9L505.3 132.2L504.3 134.2L503.3 134.6L502.3 133.5L499.7 136.9L497.3 139.1L495.3 140.1L493.3 140.5L491.3 140.3L489.3 139.9L486.3 138.5L483.2 135.9L481.5 133.9L480.3 131.9L478.4 127.9L476.9 122.9L476 116.9L475.5 109.9L475.5 98.8L475.9 91.8L476.8 85.8L478.3 80.4L479.3 78L480.4 75.7L481.8 73.7L483.5 71.7L485.3 70.2L487.3 69L489.3 68.1Z"/>
<path fill="#00bfff" d="M492.3 71.6L494.3 71.7L495.3 72L497.3 73.3L499.3 75.4L501.3 79.1L502.3 79.4L503.3 77.9L504.3 78.4L505.3 81.2L505.9 84.8L506.3 89.8L506.6 96.8L506.6 109.9L506.4 117.9L505.8 123.9L505.3 126.8L504.9 127.9L504.3 129.6L503.3 130.1L502.3 128.6L501.3 129L499.3 132.6L497.3 134.7L495.3 136L493.3 136.4L490.3 136L487.3 134.6L485.3 133L484.3 131.9L482.3 128.9L480.5 124.9L479.2 119.9L478.5 114.9L478.2 107.8L478.3 97.8L478.7 91.8L479.5 86.8L481 81.8L483.1 77.7L484.3 76.1L485.6 74.7L488.4 72.7L490.3 72Z"/>
<path fill="#008cff" d="M490.3 76.4L492.3 75.9L494.3 76L495.7 76.7L497.3 78.1L498.3 79.4L499.5 81.8L500.6 84.8L501.3 87.6L501.8 85.8L503.3 82.7L504.3 83.5L505.2 87.8L505.6 92.8L505.8 101.8L505.7 113.9L505.3 119.9L504.3 124.5L503.3 125.3L501.7 121.9L501.3 120.4L500.1 124.9L498.3 128.6L496.3 130.9L495.3 131.5L493.3 132.1L491.3 131.9L488.9 130.9L486.5 128.9L484.9 126.9L483.4 123.9L482.3 120.3L481.6 116.9L481 111.9L480.9 105.8L481 96.8L481.5 91.8L482.2 87.8L483.6 83.8L485.3 80.6L487.3 78.3L488.3 77.5Z"/>
<path fill="#0059ff" d="M491.3 80.7L493.3 80.4L494.3 80.7L495.3 81.3L496.3 82.2L497.3 83.8L498.6 86.8L499.3 89.8L499.9 93.8L500.2 97.8L500.2 110.9L499.9 114.9L499.2 118.9L498.3 122.1L496.9 124.9L495.3 126.7L494.3 127.3L493.3 127.6L491.3 127.3L489.3 126.2L487.9 124.9L486.6 122.9L485.3 119.9L484.5 116.9L484 113.9L483.7 109.9L483.7 97.8L484 93.8L484.8 89.8L485.8 86.8L487.3 84L489.3 81.8ZM503.3 88.1L504.3 89.5L504.6 91.8L505 96.8L505.1 103.8L505 110.9L504.6 115.9L504.3 118.5L503.3 119.9L502.5 116.9L502.1 113.9L501.8 103.8L501.9 97.8L502.1 93.8L502.6 90.8Z"/>
<path fill="#0026ff" d="M492.3 85.5L493.3 85.4L494.3 85.8L495.3 86.7L496.4 88.8L497.3 91.5L497.7 93.8L498.2 99.8L498.1 109.9L497.4 115.9L496.5 118.9L495.5 120.9L494.3 122.2L493.3 122.6L492.3 122.5L491.3 122.2L490.3 121.5L489.3 120.3L488.3 118.6L487.3 115.9L486.9 113.9L486.3 107.8L486.4 97.8L486.7 94.8L487.3 92.2L488.1 89.8L489.3 87.7L490.3 86.5L491.3 85.8ZM503.3 94.5L504.1 97.8L504.3 103.8L504.1 109.9L503.3 113.5L502.8 108.8L502.7 103.8L502.8 98.8Z"/>
<path fill="#0000ff" d="M492.3 91.2L493.3 91.1L494.3 91.8L494.8 92.8L495.3 94.1L495.6 95.8L496.1 99.8L496.1 106.8L495.7 111.9L494.9 114.9L494.3 116.2L493.3 116.9L492.3 116.8L491.3 116.1L490.3 114.4L489.5 111.9L489 107.8L489 100.8L489.4 96.8L490.3 93.6L491.3 91.9Z"/>
<path fill="#d9ff00" d="M438.3 2.5L438.9 3.5L439.7 4.5L446.2 11L452.2 15L453.2 15.6L454.2 15.9L469.2 16L470.3 15.9L473.3 15.1L477.3 15L480.3 14.7L486.3 15.1L489.3 15.9L493.3 16.2L496.3 16.9L499.3 17.2L502.3 17.9L505.3 18.4L514.3 21.5L515.3 22.5L515.7 23.6L515.7 26.6L515.3 28.7L514.8 34.6L514.4 36.6L514 37.6L512.7 39.6L511.5 40.6L505.3 44.4L502.3 45.8L499.3 45.7L498.3 44.7L494.3 44.7L493.3 43.8L492.3 43.8L491.3 44.7L487.3 44.7L484.3 44.2L478.3 44L475.3 43.2L474.3 43.2L470.3 43.3L469.2 43.5L468.2 44.2L451.2 55.5L450.2 56.5L448.7 58.7L446.1 61.7L440.4 72.7L438 75.7L434.1 81.8L432.1 87.8L431.4 90.8L428.9 96.8L428.2 97.8L426.2 99.4L425.2 100.6L422.5 105.8L422.1 106.8L421 110.9L420.6 113.9L419.8 116.9L419.7 127.9L419.8 128.9L420.6 131.9L420.7 136.9L421 138.9L422 143L423.1 146L427.7 153L428.3 154L428.6 155L394.2 155L394.2 2.5ZM545.3 2.5L545.3 81.9L543.9 82.8L542.6 84.8L539.1 94.8L538.7 98.8L537.9 101.8L537.7 107.8L536.9 110.9L536.8 112.9L536.8 125.9L536.9 126.9L537.7 129.9L537.9 135.9L538.7 138.9L538.9 142L540.1 147L541.1 150L543.3 155L522.8 155L522.8 2.5Z"/>
<path fill="#ffd800" d="M545.3 2.5L545.3 74.3L543.3 74.6L541.3 75.5L539.3 77.2L537.1 79.8L535.5 82.8L532.3 91.6L531.6 92.8L531.3 94.3L530.3 93.5L529.9 89.8L529.8 83.8L529.8 2.5ZM418.2 4.5L419.2 3.7L420.2 4.1L424.5 10.5L426.2 12.1L427.2 12.4L428.2 12.2L430.5 10.5L432.2 7.9L433.2 8.2L442.2 17L449.2 21.8L451.2 22.7L454.2 23.1L471.3 23L477.3 21.3L484.3 20.3L491.3 20.3L497.3 21L503.3 22.4L506.5 23.6L509.3 25L510.3 25.9L510.7 26.6L511.1 27.6L511.4 29.6L511.3 31.6L510.7 33.6L510.1 34.6L509.2 35.6L508.3 36.3L503.3 38.6L500.3 39.4L494.3 39.5L490.3 39.3L481.3 38L476.6 36.6L474.3 36.2L470.3 36.1L467.2 36.5L464.9 37.6L446.9 49.7L444.7 51.7L442.5 54.7L440 57.7L434.3 68.7L432 71.7L428 77.7L427.2 79.3L426.2 82.2L424.3 88.8L422.8 91.8L421.2 92.8L419.2 93.6L418.2 94.5L414.4 100.8L412.2 103.3L408.2 106L403.2 107.8L402.2 108.7L401 111.9L399.8 116.9L399.6 118.9L399.3 119.9L398.2 121L397.2 121.3L394.2 121.4L394.2 15.2L405.2 15.2L410.2 13.9L414.2 12.5L415.8 11.5L416.5 10.5ZM531.3 143.5L531.6 145L532.3 146.3L533 149L535.1 155L529.8 155L530 148L530.3 144.3Z"/>
<path fill="#ffa600" d="M419.2 22.3L420.2 22.1L424.2 22L426.2 21.6L428.2 22L439.2 22.1L440.2 22.3L441.2 22.9L444.2 23.2L445.2 23.6L446.3 24.6L447.2 26.6L446.6 27.6L446.2 27.8L439.2 31.3L437.2 32.9L436.2 33.3L434.2 34.9L432.9 35.6L430.6 37.6L429.2 38.4L428.2 39.3L427 41.6L426.5 43.6L425 46.6L423.5 51.7L423 52.7L422.5 54.7L422 55.7L421.5 57.7L418.5 63.7L416.9 65.7L415.9 67.7L415 69.7L414.5 71.7L412.5 75.7L409.2 79.3L408.2 80L406.8 80.8L403.6 83.8L402.2 84.2L401.2 84.2L400.1 83.8L398.9 81.8L398.7 80.8L398.7 75.7L397.7 72.7L397.7 52.7L397.9 51.7L398.5 50.7L398.9 47.6L399.5 46.6L399.9 44.6L401.2 42.2L403.2 40.1L406.2 38.1L412.7 31.6L413.5 30.6L413.9 29.6L415.5 27.6L416.9 24.6L418.2 23.1ZM537.3 22.1L538.3 22.4L538.9 23.6L539.4 24.6L540.1 27.6L540.6 32.6L540.7 40.6L540.6 48.7L540 54.7L539.3 57.7L538.8 58.7L538.3 59.6L537.3 59.9L536.2 58.7L535.3 56.2L535 54.7L534.5 48.7L534.4 40.6L534.5 32.6L535 27.6L535.3 25.8L536.1 23.6L536.3 23ZM482.3 23.4L485.3 23L491.3 22.9L497.3 23.6L502.3 25L505.3 26.4L506.7 27.6L507.2 28.6L507.4 29.6L507.3 31.6L506.9 32.6L506.3 33.6L504.9 34.6L501.3 36.3L499.3 36.7L495.3 36.9L491.3 36.8L484.3 35.6L481.3 34.9L478.2 33.6L476.3 32.6L475 31.6L474.2 30.6L473.8 29.6L473.7 28.6L474 27.6L474.7 26.6L475.9 25.6L478.3 24.5Z"/>
<path fill="#ff7200" d="M489.3 25.5L493.3 25.6L496.3 26.1L497.9 26.6L500.2 27.6L501.8 28.6L502.6 29.6L502.7 30.6L502.2 31.6L501.3 32.4L499.3 33.4L496.3 34L493.3 34.2L490.3 33.9L486.3 32.9L485.3 32.6L483.5 31.6L482.5 30.6L482 29.6L482 28.6L482.6 27.6L483.3 27L483.9 26.6L485.3 26.1Z"/>
<path fill="#ff3300" d="M491.3 29L492.3 28.6L493.3 28.9L494.3 29.6L493.3 30.3L492.3 30.4L490.7 29.6Z"/>
<text class="t" transform="translate(389.80 157.90) scale(0.740 1)" text-anchor="end">0</text>
<text class="t" transform="translate(389.80 124.01) scale(0.740 1)" text-anchor="end">40</text>
<text class="t" transform="translate(389.80 90.12) scale(0.740 1)" text-anchor="end">80</text>
<text class="t" transform="translate(389.80 56.23) scale(0.740 1)" text-anchor="end">120</text>
<text class="t" transform="translate(389.80 22.34) scale(0.740 1)" text-anchor="end">160</text>
<text class="t" transform="translate(410.82 164.50) scale(0.740 1)" text-anchor="middle">0.5</text>
<text class="t" transform="translate(434.30 164.50) scale(0.740 1)" text-anchor="middle">1</text>
<text class="t" transform="translate(488.82 164.50) scale(0.740 1)" text-anchor="middle">5</text>
<text class="t" transform="translate(512.30 164.50) scale(0.740 1)" text-anchor="middle">10</text>
<g stroke="#444" stroke-width="0.5"><line x1="391.80" y1="155.00" x2="394.20" y2="155.00"/><line x1="392.90" y1="146.53" x2="394.20" y2="146.53"/><line x1="392.90" y1="138.06" x2="394.20" y2="138.06"/><line x1="392.90" y1="129.58" x2="394.20" y2="129.58"/><line x1="391.80" y1="121.11" x2="394.20" y2="121.11"/><line x1="392.90" y1="112.64" x2="394.20" y2="112.64"/><line x1="392.90" y1="104.17" x2="394.20" y2="104.17"/><line x1="392.90" y1="95.69" x2="394.20" y2="95.69"/><line x1="391.80" y1="87.22" x2="394.20" y2="87.22"/><line x1="392.90" y1="78.75" x2="394.20" y2="78.75"/><line x1="392.90" y1="70.28" x2="394.20" y2="70.28"/><line x1="392.90" y1="61.81" x2="394.20" y2="61.81"/><line x1="391.80" y1="53.33" x2="394.20" y2="53.33"/><line x1="392.90" y1="44.86" x2="394.20" y2="44.86"/><line x1="392.90" y1="36.39" x2="394.20" y2="36.39"/><line x1="392.90" y1="27.92" x2="394.20" y2="27.92"/><line x1="391.80" y1="19.44" x2="394.20" y2="19.44"/><line x1="392.90" y1="10.97" x2="394.20" y2="10.97"/><line x1="402.96" y1="155.00" x2="402.96" y2="156.30"/><line x1="410.52" y1="155.00" x2="410.52" y2="157.40"/><line x1="416.70" y1="155.00" x2="416.70" y2="156.30"/><line x1="421.92" y1="155.00" x2="421.92" y2="156.30"/><line x1="426.44" y1="155.00" x2="426.44" y2="156.30"/><line x1="430.43" y1="155.00" x2="430.43" y2="156.30"/><line x1="434.00" y1="155.00" x2="434.00" y2="157.40"/><line x1="457.48" y1="155.00" x2="457.48" y2="156.30"/><line x1="471.22" y1="155.00" x2="471.22" y2="156.30"/><line x1="480.96" y1="155.00" x2="480.96" y2="156.30"/><line x1="488.52" y1="155.00" x2="488.52" y2="157.40"/><line x1="494.70" y1="155.00" x2="494.70" y2="156.30"/><line x1="499.92" y1="155.00" x2="499.92" y2="156.30"/><line x1="504.44" y1="155.00" x2="504.44" y2="156.30"/><line x1="508.43" y1="155.00" x2="508.43" y2="156.30"/><line x1="512.00" y1="155.00" x2="512.00" y2="157.40"/><line x1="535.48" y1="155.00" x2="535.48" y2="156.30"/></g>
<text class="t" transform="translate(469.55 172.40) scale(0.760 1)" text-anchor="middle">Frequency (Hz)</text>
<text class="t" transform="translate(378.30 79.45) rotate(-90) scale(0.750 1)" text-anchor="middle">Azimuth (deg.)</text>
<text class="ttl" x="544.90" y="21.90" text-anchor="end" textLength="36.0" lengthAdjust="spacingAndGlyphs">PUJ-19</text>
<rect x="382.50" y="178.50" width="5.20" height="12.00" fill="#ff0000"/>
<rect x="387.40" y="178.50" width="8.84" height="12.00" fill="#ff3300"/>
<rect x="395.94" y="178.50" width="8.84" height="12.00" fill="#ff7200"/>
<rect x="404.48" y="178.50" width="8.84" height="12.00" fill="#ffa600"/>
<rect x="413.02" y="178.50" width="8.84" height="12.00" fill="#ffd800"/>
<rect x="421.56" y="178.50" width="8.84" height="12.00" fill="#d9ff00"/>
<rect x="430.09" y="178.50" width="8.84" height="12.00" fill="#00ff00"/>
<rect x="438.63" y="178.50" width="8.84" height="12.00" fill="#00ff00"/>
<rect x="447.17" y="178.50" width="8.84" height="12.00" fill="#00ff00"/>
<rect x="455.71" y="178.50" width="8.84" height="12.00" fill="#00ff00"/>
<rect x="464.25" y="178.50" width="8.84" height="12.00" fill="#00ff00"/>
<rect x="472.79" y="178.50" width="8.84" height="12.00" fill="#00ff00"/>
<rect x="481.33" y="178.50" width="8.84" height="12.00" fill="#00ff80"/>
<rect x="489.87" y="178.50" width="8.84" height="12.00" fill="#00ffc4"/>
<rect x="498.41" y="178.50" width="8.84" height="12.00" fill="#00ffff"/>
<rect x="506.94" y="178.50" width="8.84" height="12.00" fill="#00bfff"/>
<rect x="515.48" y="178.50" width="8.84" height="12.00" fill="#008cff"/>
<rect x="524.02" y="178.50" width="8.84" height="12.00" fill="#0059ff"/>
<rect x="532.56" y="178.50" width="8.84" height="12.00" fill="#0026ff"/>
<rect x="541.10" y="178.50" width="4.40" height="12.00" fill="#0000ff"/>
<g stroke="#444" stroke-width="0.5"><line x1="387.00" y1="190.50" x2="387.00" y2="192.90"/><line x1="393.78" y1="190.50" x2="393.78" y2="191.80"/><line x1="400.56" y1="190.50" x2="400.56" y2="191.80"/><line x1="407.34" y1="190.50" x2="407.34" y2="191.80"/><line x1="414.12" y1="190.50" x2="414.12" y2="191.80"/><line x1="420.90" y1="190.50" x2="420.90" y2="192.90"/><line x1="427.68" y1="190.50" x2="427.68" y2="191.80"/><line x1="434.46" y1="190.50" x2="434.46" y2="191.80"/><line x1="441.24" y1="190.50" x2="441.24" y2="191.80"/><line x1="448.02" y1="190.50" x2="448.02" y2="191.80"/><line x1="454.80" y1="190.50" x2="454.80" y2="192.90"/><line x1="461.58" y1="190.50" x2="461.58" y2="191.80"/><line x1="468.36" y1="190.50" x2="468.36" y2="191.80"/><line x1="475.14" y1="190.50" x2="475.14" y2="191.80"/><line x1="481.92" y1="190.50" x2="481.92" y2="191.80"/><line x1="488.70" y1="190.50" x2="488.70" y2="192.90"/><line x1="495.48" y1="190.50" x2="495.48" y2="191.80"/><line x1="502.26" y1="190.50" x2="502.26" y2="191.80"/><line x1="509.04" y1="190.50" x2="509.04" y2="191.80"/><line x1="515.82" y1="190.50" x2="515.82" y2="191.80"/><line x1="522.60" y1="190.50" x2="522.60" y2="192.90"/><line x1="529.38" y1="190.50" x2="529.38" y2="191.80"/><line x1="536.16" y1="190.50" x2="536.16" y2="191.80"/><line x1="542.94" y1="190.50" x2="542.94" y2="191.80"/></g>
<text class="t" transform="translate(387.90 199.80) scale(0.740 1)" text-anchor="middle">0</text>
<text class="t" transform="translate(421.80 199.80) scale(0.740 1)" text-anchor="middle">2</text>
<text class="t" transform="translate(455.70 199.80) scale(0.740 1)" text-anchor="middle">4</text>
<text class="t" transform="translate(489.60 199.80) scale(0.740 1)" text-anchor="middle">6</text>
<text class="t" transform="translate(523.50 199.80) scale(0.740 1)" text-anchor="middle">8</text>
<text class="t" transform="translate(464.60 208.00) scale(0.800 1)" text-anchor="middle">H/V</text>
</g>
<g id="p4">
<rect x="25.5" y="213.7" width="151.5" height="152.6" fill="#00ff00"/>
<path fill="none" stroke="#5cff3a" stroke-opacity="0.4" stroke-width="0.45" d="M34.5 213.7L33.5 219.8L32.8 270.9L32.7 300L33.4 366.3M147.6 213.7L145.4 225.7L144.1 261.9L143.3 271.9L141.7 284L140.9 286.1L132.9 295.9L130.6 300L127 315.1L126.5 330.2L127.1 345.2L128.8 358.1L130.5 366.3M36.8 366.3L37.3 270.9L36.9 224.7L36.5 216.7L35.6 213.7M54.7 366.3L55.5 315.1L55.1 300L54.6 224.7L53.6 219.6L51.6 219.5L50.6 219.5L49.6 220.5L49.1 224.7L48.9 253.9L48 278L47.6 284.8L46.4 291L45.5 300L45.5 366.3M163.1 366.3L166.8 348.2L173.9 330.2L174 316.1L173.7 314.1L166 295L159.1 281L156.3 270.9L155.5 254.9L155.5 224.7L154.3 213.7M73.7 304.3L72 316.1L72.2 330.2L73.7 340.7L74.7 339.1L75.8 331.2L76 327.1L75.9 314.1L74.7 305.9L73.7 304.3M92.7 311.5L91.7 312.6L90.6 315.1L90.5 327.1L90.7 330.7L92.7 335.9L93.7 334L94.5 330.2L94.5 317.1L94.2 314.1L93.7 312.7L92.7 311.5"/>
<path fill="#00ff80" d="M33 213.7L32.6 240.8L31.5 276.9L31.1 286L31.1 300L31.5 305.5L32.3 330.2L32.7 366.3L25.5 366.3L25.5 213.7ZM48.7 213.7L48.2 224.7L48.1 242.8L47.6 260.8L46.6 267.5L45.8 269.9L45.1 273.9L43.9 286L43.7 300L43.9 330.2L43.9 366.3L37.5 366.3L37.6 315.1L38.3 300L38.4 285L38.3 269.9L37.7 241.8L37.5 213.7ZM142.8 213.7L140.8 225.7L139.5 239.8L138.9 254.9L136.8 270.9L133.8 285L132.9 286.8L130.8 292.1L126.9 300L124 315.1L122.5 330.2L124.1 345.2L125.6 355.3L127 366.3L55.2 366.3L55.6 345.2L56.3 335.2L56.6 332.3L57.4 330.2L58.6 323.4L59.3 322.1L60 320.1L60.3 318.1L60.5 315.1L59.8 312.1L57.6 306L56.6 300.2L56.4 270.9L55.4 249.8L55.1 224.7L54.7 213.7ZM72 287L71.2 289L70.4 292L68.2 315.1L69.2 330.2L71.7 352.2L72.7 357L73.7 358.8L74.7 357.8L75.7 355.4L77.2 350.2L78.4 345.2L79.7 330.2L79.8 316.1L78.6 301L77.4 293L76.5 289L75.7 286.5L74.7 284.4L73.7 283.8ZM91.4 303.1L89.7 304.8L88.2 307.1L87.1 310.1L86.4 313.1L86.1 316.1L86.1 330.2L86.6 334.2L87.3 338.2L89.2 344.2L89.7 345.2L90.5 346.2L91.7 347.3L92.7 347.8L93.7 347.4L95.3 345.2L95.9 343.2L96.6 339.2L97.7 330.2L97.5 316.1L97.3 314.1L96.7 311.1L95.7 307.5L94.7 304.9L93.7 303.1L92.7 302.2ZM112.8 314.1L112.4 315.1L112.2 316.1L111.4 330.2L112.8 335.1L113.8 336.2L115.1 333.2L115.9 330.2L115.9 329.2L114.7 315.1L113.8 313.5ZM62.6 325.4L62.4 326.1L61.8 329.2L61.9 330.2L62.6 331.3L63.6 331.9L64.1 330.2L64.1 329.2L63.6 324.5ZM163 213.7L177 213.7L177 294.2L174 290.6L169.8 284L166 275.1L163.4 269.9L163.2 268.9L161.2 254.9L161.1 240.8L161.2 224.7ZM177 350.1L177 366.3L167.2 366.3L168 362.7L169 360.5L170.3 358.3L174 353.2Z"/>
<path fill="#00ffc4" d="M32.4 213.7L32.2 239.8L31.5 254.6L30.5 260L28.5 261.4L25.5 263.1L25.5 213.7ZM47.7 213.7L47.4 239.8L46.6 250.6L45.8 254.9L44.6 258.2L43.6 259.9L42.6 261.2L41.6 262.3L40.5 262.8L39.5 262.5L38.5 254.1L38.2 239.8L38.1 213.7ZM137.8 213.7L136.6 218.7L134.4 225.7L133.9 228L132.9 234.8L132.6 239.8L132.5 254.9L132.3 269.9L130.7 285L128.3 291L124.1 300L122.3 308.1L120.4 315.1L119.8 319.4L118.8 325.2L117.8 320.6L117.3 315.1L115.7 311.1L114.8 309.4L113.8 308.2L112.8 308.8L111.8 310.4L110.1 314.1L109.7 316.1L109.1 330.2L111.2 339.2L112.8 343.3L113.8 344.1L114.8 342.8L115.5 341.2L116.6 338.2L117.8 334.1L118.8 332.4L119.8 335.9L121.3 345.2L122.9 352.2L123.6 357.3L124.6 366.3L80 366.3L81.7 358.3L83.5 354.3L84.7 352.7L85.7 352.7L87.7 353L90.7 354.1L92.7 354.6L93.7 354.4L95.7 353.1L96.7 352.2L97.7 350.5L100.7 342L101.8 340.6L103.8 338.6L105 336.2L107.1 330.2L106.2 315.1L104.8 312L103.8 310.4L102.8 310.1L100.7 310.4L99.7 309.7L97.7 300.2L97 298L95.7 295.3L93.7 292L92.7 291.1L91.7 291.1L88.7 292.1L87.7 292.1L86.7 291.1L86.1 290L85.2 288L84.4 285L80.3 274.9L77.7 267.1L76.7 264.8L75.7 263.3L74.7 262.8L73.7 262.5L71.7 262.7L67.6 265.3L66.6 265L64.6 263.7L63.6 263.5L60.6 264.1L59.6 264.2L58.6 264L57.6 262.8L56.6 258.5L56 246.8L55.4 213.7ZM177 213.7L177 277.3L175.8 275.9L174 273.2L172 268.6L170.6 262.9L169.5 254.9L168.7 239.8L168.8 225.7L169.2 222.7L170.1 218.7L171.7 213.7ZM39.5 303.1L40.3 305.1L40.7 307.1L41.3 315.1L41.4 330.2L41.4 366.3L37.9 366.3L38 315.1L38.5 305.4ZM30.5 323.2L31.5 328L32.2 366.3L25.5 366.3L25.5 322.5ZM58.6 336.9L59.6 338.9L60.2 341.2L60.8 345.2L61.6 356.2L62.6 362.3L63.6 363.7L64.8 358.3L66.1 345.2L66.5 342.2L66.6 341.4L67.6 339.3L68.6 345.2L69.6 357.3L70.7 366.3L55.7 366.3L56.2 350.2L56.6 342.5L57.6 338.2Z"/>
<path fill="#00ffff" d="M31.9 213.7L31.7 239.8L31.5 244.5L30.5 249.1L25.5 251.4L25.5 213.7ZM45 213.7L45 225.7L44.6 240.8L43.6 244.7L42.6 246.2L41.6 247.2L40.5 247.4L39.5 246.3L38.9 239.8L38.8 213.7ZM70.7 213.7L71.3 219.7L72.3 226.8L72.7 228.8L73.7 231.3L74.7 230.7L75.7 227L76.6 219.7L77.1 213.7L132.1 213.7L131.3 219.7L130.9 225.7L130.7 254.9L130.3 269.9L129.1 280L128.5 284L127.9 286L124.9 293L121.3 300L119.8 305.7L118.8 308.3L117.8 307.9L115.8 304.7L114.8 303.6L113.8 303L112.8 303.5L111.8 304.8L108.8 310L107.8 309.6L106.5 307.1L103.8 300L101.8 297L100.2 294L97.7 287L95.4 282L92.7 275.2L91.7 275.4L89.7 276.6L88.7 277L87.7 276.3L85.8 270.9L81.3 254.9L79.7 242.7L78.7 242.7L77.2 243.8L75.7 244.2L68.6 244.3L67.6 244.5L63.6 248L59.6 252.2L58.6 252.6L57.6 251.3L56.6 246.5L56.3 239.8L56 213.7ZM177 217.4L177 264.7L176 263.2L175 260.9L174 257.9L173.3 254.9L172.3 239.8L173.2 224.7L175 220L176 218.4ZM39.5 310.5L40.2 315.1L40.7 329.2L40.7 366.3L38.3 366.3L38.2 330.2L38.5 315.1L38.5 313.3ZM29.5 340.7L30.5 341L31.5 352.6L31.8 366.3L25.5 366.3L25.5 340.7ZM107.8 342.9L108.8 342.6L109.8 345.2L111 347.2L112.8 349.3L113.8 349.7L114.8 349.1L117.8 346.1L118.8 346.2L120 349.2L121.4 355.3L122.1 359.3L122.8 366.3L95.1 366.3L95.7 364.9L98.7 361L99.7 359.3L101.1 355.3L102.3 352.2L103.4 350.2L106.6 345.2ZM58.6 345.3L59.6 354.8L60.5 366.3L56.3 366.3L56.6 357.6L57.6 348.4ZM67.6 362.3L68.5 366.3L66.4 366.3L66.6 364.6Z"/>
<path fill="#00bfff" d="M31.4 213.7L31.3 225.7L30.5 240.1L29.5 240.8L25.5 242.6L25.5 213.7ZM62.2 213.7L62.2 224.7L61.6 231.3L60.5 239.8L59.6 241.8L58.6 243L57.6 241.4L57.3 238.8L56.9 213.7ZM100.7 213.7L127.7 213.7L128.1 220.7L128.8 237.8L128.9 254.9L128.4 269.9L127.3 278L126.2 284L126 285L124.7 288L121.3 294L118.8 298.9L117.8 299.4L114.8 297.7L113.8 297.4L112.6 298L108.8 302.7L107.8 301.8L107.4 301L103.8 289.8L98.3 276.9L96.2 269.9L94.9 262.9L93.7 258.1L92.7 256.2L91.7 257.3L89.7 260.3L88.7 261.4L87.7 260.8L86.2 254.9L84.5 240.8L84.5 236.8L85.4 225.7L86.5 220.7L87.7 218.1L88.7 218L89.5 218.7L91 220.7L92.7 223.8L93.7 223.9L96.7 220.7L98.7 217.9L99.7 216.3ZM177 224.1L177 253.6L176 245.7L175.5 239.8L176.5 225.7ZM39.5 322.7L39.9 330.2L39.8 366.3L38.9 366.3L38.7 357.3L38.7 331.2ZM108.8 351.1L111.8 354.1L112.8 354.8L113.8 355L114.8 354.5L117.8 352.4L118.8 353L120.3 358.3L121.4 366.3L101.8 366.3L103.8 359.1L104.4 357.3L106.1 354.3L107.8 351.6ZM29.5 361L30.5 361.7L31 366.3L25.5 366.3L25.5 359.2ZM58.6 362.9L59 366.3L57.3 366.3L57.6 363.7Z"/>
<path fill="#008cff" d="M122.4 213.7L123.8 215.3L124.8 218.1L125.9 223.7L126.5 230.8L127.2 239.8L127.3 254.9L126.7 269.9L125.3 278L123.8 284.2L118.8 292.3L117.8 292.7L113.8 291.2L112.8 291.6L112.2 292L109.8 294.3L108.8 295L107.8 293.4L106.8 290.4L103.8 278.9L102.8 276.4L99.7 269.9L97.8 254.9L98.5 248.8L100.2 239.8L101.9 224.7L105.5 215.7L106.2 213.7ZM87.7 239.4L88.7 239.5L88.7 240.4L87.7 240.5ZM108.8 358.6L109.9 359.3L111.4 361.3L112.8 363.8L113.8 364.5L116.3 360.3L116.8 359.6L117.8 358.9L118.8 360.2L119.9 366.3L105.5 366.3L106 364.3L107 361.3L107.8 359.6Z"/>
<path fill="#0059ff" d="M109.8 219.5L113.8 219.6L118.8 221.1L121.9 223.7L122.8 224.8L123.3 225.7L123.8 227L124.3 229.8L125.4 238.8L125.8 254.9L124.8 270.9L123.8 275.1L121.4 280L119.2 285L118.8 285.6L117.8 286L113.8 285L112.8 285.2L109.8 286.7L108.8 286.8L107.8 284.7L104.6 269.9L103.8 261.9L102.8 254.9L104.1 238.8L105 231.8L105.9 226.8L106.4 224.7L107.8 221.4L108.8 219.8Z"/>
<path fill="#0026ff" d="M108.8 233.2L109.8 233.1L112.8 235L113.8 235.2L116.8 233.4L117.8 232.9L118.8 233.3L122.9 239.8L123.8 247.8L124.1 254.9L123.8 258.6L122.8 263.5L120.8 269.9L118.8 273.1L117.8 273.4L113.8 270.4L112.8 270.7L109.8 273.3L108.8 273.5L107.8 270.5L106.3 254.9L107.1 239.8L107.8 236.1Z"/>
<text class="t" transform="translate(21.10 369.20) scale(0.740 1)" text-anchor="end">0</text>
<text class="t" transform="translate(21.10 335.29) scale(0.740 1)" text-anchor="end">40</text>
<text class="t" transform="translate(21.10 301.38) scale(0.740 1)" text-anchor="end">80</text>
<text class="t" transform="translate(21.10 267.47) scale(0.740 1)" text-anchor="end">120</text>
<text class="t" transform="translate(21.10 233.56) scale(0.740 1)" text-anchor="end">160</text>
<text class="t" transform="translate(43.66 375.80) scale(0.740 1)" text-anchor="middle">0.5</text>
<text class="t" transform="translate(68.80 375.80) scale(0.740 1)" text-anchor="middle">1</text>
<text class="t" transform="translate(127.16 375.80) scale(0.740 1)" text-anchor="middle">5</text>
<text class="t" transform="translate(152.30 375.80) scale(0.740 1)" text-anchor="middle">10</text>
<g stroke="#444" stroke-width="0.5"><line x1="23.10" y1="366.30" x2="25.50" y2="366.30"/><line x1="24.20" y1="357.82" x2="25.50" y2="357.82"/><line x1="24.20" y1="349.34" x2="25.50" y2="349.34"/><line x1="24.20" y1="340.87" x2="25.50" y2="340.87"/><line x1="23.10" y1="332.39" x2="25.50" y2="332.39"/><line x1="24.20" y1="323.91" x2="25.50" y2="323.91"/><line x1="24.20" y1="315.43" x2="25.50" y2="315.43"/><line x1="24.20" y1="306.96" x2="25.50" y2="306.96"/><line x1="23.10" y1="298.48" x2="25.50" y2="298.48"/><line x1="24.20" y1="290.00" x2="25.50" y2="290.00"/><line x1="24.20" y1="281.52" x2="25.50" y2="281.52"/><line x1="24.20" y1="273.04" x2="25.50" y2="273.04"/><line x1="23.10" y1="264.57" x2="25.50" y2="264.57"/><line x1="24.20" y1="256.09" x2="25.50" y2="256.09"/><line x1="24.20" y1="247.61" x2="25.50" y2="247.61"/><line x1="24.20" y1="239.13" x2="25.50" y2="239.13"/><line x1="23.10" y1="230.66" x2="25.50" y2="230.66"/><line x1="24.20" y1="222.18" x2="25.50" y2="222.18"/><line x1="35.27" y1="366.30" x2="35.27" y2="367.60"/><line x1="43.36" y1="366.30" x2="43.36" y2="368.70"/><line x1="49.98" y1="366.30" x2="49.98" y2="367.60"/><line x1="55.57" y1="366.30" x2="55.57" y2="367.60"/><line x1="60.41" y1="366.30" x2="60.41" y2="367.60"/><line x1="64.68" y1="366.30" x2="64.68" y2="367.60"/><line x1="68.50" y1="366.30" x2="68.50" y2="368.70"/><line x1="93.64" y1="366.30" x2="93.64" y2="367.60"/><line x1="108.34" y1="366.30" x2="108.34" y2="367.60"/><line x1="118.77" y1="366.30" x2="118.77" y2="367.60"/><line x1="126.86" y1="366.30" x2="126.86" y2="368.70"/><line x1="133.48" y1="366.30" x2="133.48" y2="367.60"/><line x1="139.07" y1="366.30" x2="139.07" y2="367.60"/><line x1="143.91" y1="366.30" x2="143.91" y2="367.60"/><line x1="148.18" y1="366.30" x2="148.18" y2="367.60"/><line x1="152.00" y1="366.30" x2="152.00" y2="368.70"/></g>
<text class="t" transform="translate(101.05 383.70) scale(0.760 1)" text-anchor="middle">Frequency (Hz)</text>
<text class="t" transform="translate(9.60 290.70) rotate(-90) scale(0.750 1)" text-anchor="middle">Azimuth (deg.)</text>
<text class="ttl" x="173.00" y="232.40" text-anchor="end" textLength="36.3" lengthAdjust="spacingAndGlyphs">PUJ-23</text>
<rect x="13.00" y="388.30" width="5.20" height="11.90" fill="#ff0000"/>
<rect x="17.90" y="388.30" width="8.84" height="11.90" fill="#ff3300"/>
<rect x="26.44" y="388.30" width="8.84" height="11.90" fill="#ff7200"/>
<rect x="34.98" y="388.30" width="8.84" height="11.90" fill="#ffa600"/>
<rect x="43.52" y="388.30" width="8.84" height="11.90" fill="#ffd800"/>
<rect x="52.06" y="388.30" width="8.84" height="11.90" fill="#d9ff00"/>
<rect x="60.59" y="388.30" width="8.84" height="11.90" fill="#00ff00"/>
<rect x="69.13" y="388.30" width="8.84" height="11.90" fill="#00ff00"/>
<rect x="77.67" y="388.30" width="8.84" height="11.90" fill="#00ff00"/>
<rect x="86.21" y="388.30" width="8.84" height="11.90" fill="#00ff00"/>
<rect x="94.75" y="388.30" width="8.84" height="11.90" fill="#00ff00"/>
<rect x="103.29" y="388.30" width="8.84" height="11.90" fill="#00ff00"/>
<rect x="111.83" y="388.30" width="8.84" height="11.90" fill="#00ff80"/>
<rect x="120.37" y="388.30" width="8.84" height="11.90" fill="#00ffc4"/>
<rect x="128.91" y="388.30" width="8.84" height="11.90" fill="#00ffff"/>
<rect x="137.44" y="388.30" width="8.84" height="11.90" fill="#00bfff"/>
<rect x="145.98" y="388.30" width="8.84" height="11.90" fill="#008cff"/>
<rect x="154.52" y="388.30" width="8.84" height="11.90" fill="#0059ff"/>
<rect x="163.06" y="388.30" width="8.84" height="11.90" fill="#0026ff"/>
<rect x="171.60" y="388.30" width="4.40" height="11.90" fill="#0000ff"/>
<g stroke="#444" stroke-width="0.5"><line x1="17.50" y1="400.20" x2="17.50" y2="402.60"/><line x1="27.54" y1="400.20" x2="27.54" y2="401.50"/><line x1="37.58" y1="400.20" x2="37.58" y2="401.50"/><line x1="47.62" y1="400.20" x2="47.62" y2="401.50"/><line x1="57.66" y1="400.20" x2="57.66" y2="401.50"/><line x1="67.70" y1="400.20" x2="67.70" y2="402.60"/><line x1="77.74" y1="400.20" x2="77.74" y2="401.50"/><line x1="87.78" y1="400.20" x2="87.78" y2="401.50"/><line x1="97.82" y1="400.20" x2="97.82" y2="401.50"/><line x1="107.86" y1="400.20" x2="107.86" y2="401.50"/><line x1="117.90" y1="400.20" x2="117.90" y2="402.60"/><line x1="127.94" y1="400.20" x2="127.94" y2="401.50"/><line x1="137.98" y1="400.20" x2="137.98" y2="401.50"/><line x1="148.02" y1="400.20" x2="148.02" y2="401.50"/><line x1="158.06" y1="400.20" x2="158.06" y2="401.50"/><line x1="168.10" y1="400.20" x2="168.10" y2="402.60"/></g>
<text class="t" transform="translate(18.40 409.50) scale(0.740 1)" text-anchor="middle">0</text>
<text class="t" transform="translate(68.60 409.50) scale(0.740 1)" text-anchor="middle">1</text>
<text class="t" transform="translate(118.80 409.50) scale(0.740 1)" text-anchor="middle">2</text>
<text class="t" transform="translate(169.00 409.50) scale(0.740 1)" text-anchor="middle">3</text>
<text class="t" transform="translate(95.10 417.70) scale(0.800 1)" text-anchor="middle">H/V</text>
</g>
<g id="p5">
<rect x="208.7" y="214.8" width="152.1" height="152.8" fill="#00ff00"/>
<path fill="none" stroke="#5cff3a" stroke-opacity="0.4" stroke-width="0.45" d="M322.8 214.8L321.3 219.8L321.1 222.8L320.3 224.9L320.1 227.9L319.3 229.9L319.1 233.9L318.3 235.9L318.1 239.9L317.3 241.9L317.1 246L316.1 249L315.8 254.2L313.3 258L308.7 267.1L304.8 270.2L299.8 273.2L287.8 273.6L285.8 275.5L283.2 279.1L282.3 281.1L282.3 282.2L288.8 288.7L292.8 290.7L297.8 292.1L299.9 293.2L302.9 295.2L306.8 298.7L307.9 299.2L312.9 304.3L318.9 316.3L319.3 319.3L319.9 320.4L320.3 323.4L321.1 325.4L321.3 328.4L321.9 329.4L322.3 332.4L322.9 333.4L323.3 339.5L324.1 341.5L324.3 346.5L325.1 348.5L325.1 355.5L326.1 358.6L326.1 365.6L326.8 367.6M208.7 331.9L210.7 330.9L213.2 328.4L213.6 326.4L216.7 320.6L217.7 320.4L222.7 323.8L223.7 323.8L225.7 322L226.7 320.2L228.7 318.3L232.7 319.2L235.7 320.6L236.7 320L239.7 316L247.7 308L249.7 306.8L253.7 303.1L257.7 300.8L260.7 297.9L261.2 297.2L261.6 295.2L263.2 292.2L265.4 284.2L265.2 280.1L264.6 279.1L264.2 275.1L263.6 274.1L263.3 271.1L262.7 270.1L260.7 270.6L257.7 272.2L255.7 272.8L254.7 272.4L252.6 270.1L251.4 268.1L247.6 264.1L244.4 259L242.7 257.6L241.7 257.6L238.7 258.7L237.7 258.3L236.6 257L235.1 254L233.7 253.6L232.7 254.1L229.7 254.5L225.7 256.1L223.7 256.3L222.7 255.9L221.6 254L221.2 252L220.2 250L218.7 248L217.7 248.4L214.7 251.1L213.7 251.5L209.7 255.1L208.7 255.3M320.7 214.8L320.5 217.8L319.7 219.8L319.5 222.8L318.8 224.2L318.4 226.9L317.7 227.9L316.7 231.9L315.8 232.9L315.6 234.9L314.8 235.9L314.7 236.9L313.8 237.9L313.8 238.9L311.8 240.9L311.8 241.9L310.8 242.9L310.8 244L309.8 245L309.8 246L307.8 248L307.8 249L304.8 252L304.8 253L301.8 256L301.8 257L297.8 261L297.8 262L293.8 266.1L289.8 262L288.8 262L281.7 255L275.7 261L274.7 261L272.7 263.1L263.7 254L263.7 253L257.7 247L257.7 246L254.7 242.9L254.7 241.9L252.7 239.9L252.7 238.9L250.7 236.9L250.7 235.9L249.7 234.9L249.7 233.9L248.7 232.9L248.7 231.9L247.7 230.9L247.7 229.9L246.7 228.9L246.7 227.9L245.7 226.9L245.7 225.9L244.7 224.9L244.7 222.8L243.7 221.8L243.7 218.8L242.7 217.8L242.7 214.8M240.7 367.6L240.7 362.6L241.7 361.6L241.7 352.5L242.7 351.5L242.7 346.5L243.7 345.5L243.7 342.5L244.7 341.5L244.7 339.5L245.7 338.4L245.7 336.4L246.7 335.4L246.7 333.4L247.7 332.4L247.7 331.4L248.7 330.4L248.7 329.4L249.7 328.4L249.7 327.4L250.7 326.4L250.7 325.4L251.7 324.4L251.7 323.4L253.7 321.4L253.7 320.4L254.7 319.3L254.7 318.3L257.7 315.3L257.7 314.3L260.7 311.3L260.7 310.3L271.7 299.2L273.7 301.3L273.7 302.3L275.7 304.3L275.7 305.3L277.7 307.3L277.7 308.3L279.7 310.3L279.7 311.3L281.7 313.3L281.7 314.3L282.7 315.3L286.8 311.3L287.8 311.3L292.8 306.3L293.8 307.3L293.8 308.3L296.8 311.3L296.8 312.3L298.8 314.3L298.8 315.3L300.8 317.3L300.8 318.3L302.8 320.4L302.8 321.4L304.8 323.4L304.8 324.4L305.8 325.4L305.8 326.4L306.8 327.4L306.8 328.4L307.8 329.4L307.8 330.4L308.8 331.4L308.8 332.4L309.8 333.4L309.8 334.4L310.8 335.4L310.8 337.4L311.8 338.4L311.8 340.5L312.8 341.5L312.8 343.5L313.8 344.5L313.8 346.5L314.8 347.5L314.8 350.5L315.8 351.5L315.8 355.5L316.8 356.5L316.8 363.6L317.8 364.6L317.8 367.6M318.1 214.8L316.4 223.8L313.7 231.9L311.8 236.1L304.8 248.4L298.8 256.7L293.8 262.8L282.7 251.8L281.7 251.6L273.7 259.1L272.7 259.5L262.2 248L253.7 235.9L251.5 231.9L248.4 224.9L246.6 218.8L245.9 214.8M244.1 367.6L244.7 356.5L246.1 347.5L248.2 339.5L251.2 331.4L255.2 323.4L260.4 315.3L266.8 307.3L270.7 303L271.7 302.5L277 310.3L281.7 318.8L282.7 319.5L289.8 312.3L292.8 310L295.9 314.3L303.9 327.4L309.2 339.5L312.8 351.5L314.2 359.6L314.9 367.6M315.7 214.8L313.7 224.9L310.8 232.9L308.8 237.3L301.8 249.2L293.8 259.8L287.8 253.9L282.7 248.2L281.7 248.4L273.7 256.3L272.7 256.7L262.6 245L257.1 236.9L254.7 232.8L251.5 225.9L249.6 219.8L248.6 214.8M246.7 367.6L247 361.6L248 351.5L249.7 343.1L252.2 335.4L255.7 327.2L260.2 319.3L266 311.3L270.7 305.8L271.7 305.3L276.8 313.3L281.7 323L282.7 323.1L289.9 315.3L292.8 312.9L295.8 317.3L302.8 329.4L307.8 341.5L311.1 353.5L312.3 361.6L312.8 367.6M313.2 214.8L311.2 224.9L309.9 228.9L306.5 236.9L301.8 245.4L293.8 256.8L287.8 250.5L282.7 244.4L281.7 245L273.7 253.4L272.7 253.8L263.1 241.9L258 233.9L253.5 223.8L251.4 214.8M249.4 367.6L249.6 361.6L250.6 351.5L252.2 343.5L254.8 335.4L258.3 327.4L262.9 319.3L268.7 311.2L270.7 308.7L271.8 308.3L276.7 316.7L281.7 327.9L289.1 319.3L292.8 315.9L300.1 328.4L305.3 340.5L308.8 352.6L310.1 360.6L310.6 367.6"/>
<path fill="#00ff80" d="M310.7 214.8L310.2 218.8L309.1 223.8L307.5 228.9L305.4 233.9L303 238.9L300.2 244L297 249L293.8 253.6L291.3 251L287.9 247L282.7 240.1L275 249L273.7 250.3L272.7 250.7L268.8 246L265.1 240.9L261.9 235.9L259.2 230.9L257 225.9L255.3 220.8L254.1 214.8ZM270.7 311.9L271.7 311.4L274.5 316.3L277.5 322.4L280.7 330.6L281.7 332.6L284.7 328.4L287.9 324.4L291.8 319.9L292.8 319.2L296.4 325.4L299.5 331.4L302.1 337.4L304.2 343.5L305.9 349.5L307.2 355.5L308.1 361.6L308.5 367.6L252 367.6L252.3 359.6L253.2 351.5L254.6 344.5L256.7 337.4L259.4 330.4L262.5 324.4L266.1 318.3Z"/>
<path fill="#00ffc4" d="M308.3 214.8L307.8 218.8L306.9 222.8L305.7 226.9L303.8 231.9L302.1 235.9L299.5 240.9L296.5 246L293.8 250.1L291.8 248L288.6 244L282.7 235.5L279.6 239.9L276.4 244L273.7 247L272.7 247.5L269.3 242.9L265.9 237.9L263 232.9L261 228.9L258.9 223.8L257.5 218.8L256.8 214.8ZM271.7 314.8L274.1 319.3L276.4 324.4L278.7 330.4L280.7 337.3L281.2 337.4L281.7 337.6L284.3 333.4L287.8 328.4L291.8 323.5L292.8 322.7L295.9 328.4L298.3 333.4L300.3 338.4L302.4 344.5L303.8 349.5L305.1 355.5L305.9 361.6L306.4 367.6L254.6 367.6L254.9 359.6L255.7 352.5L257 345.5L258.9 338.4L261.6 331.4L264.5 325.4L266.8 321.4L269.4 317.3L270.7 315.4Z"/>
<path fill="#00ffff" d="M305.8 214.8L305.5 217.8L304.7 221.8L303.6 225.9L302.2 229.9L298.6 237.9L293.8 246.4L291.7 244L288.8 239.9L286.3 235.9L283.7 231.4L282.7 230.4L280 234.9L277.2 238.9L273.7 243.4L272.7 243.9L269.9 239.9L267.4 235.9L263.7 228.9L262 224.9L260.7 220.8L259.8 216.8L259.5 214.8ZM270.7 319.3L271.7 318.6L275.6 327.4L278.3 335.4L280.7 345.9L283.3 340.5L286.2 335.4L291 328.4L291.8 327.3L292.8 326.5L295.2 331.4L297.4 336.4L299.3 341.5L300.9 346.5L302.1 351.5L303.1 356.5L303.8 361.6L304.2 367.6L257.2 367.6L257.4 360.6L258.1 353.5L259.2 347.5L260.6 341.5L262.6 335.4L264.7 330.4L267.7 324.4Z"/>
<path fill="#00bfff" d="M303.4 214.8L302.4 220.8L300.5 227.9L297.6 234.9L293.8 242.4L291.3 238.9L288.2 233.9L285.6 228.9L283.7 224.2L282.7 223.8L281 227.9L278.2 232.9L273.7 239.5L272.7 240.1L268.4 232.9L265.1 225.9L263.8 221.8L263 218.8L262.3 214.8ZM271.7 322.8L274.4 329.4L276.3 335.4L278.4 344.5L279.7 354.3L280.7 355L282.8 348.5L285.9 341.5L289.9 334.4L291.8 331.6L292.8 330.7L296.5 339.5L299.3 348.5L301.1 357.5L301.8 362.6L302.1 367.6L259.8 367.6L260.1 360.6L260.6 354.5L261.6 348.5L262.9 342.5L264.8 336.4L267.3 330.4L270.7 323.6Z"/>
<path fill="#008cff" d="M282.1 214.8L281 219.8L278.8 225.9L277.4 228.9L275.1 232.9L273.7 235.1L272.7 235.8L269.6 229.9L267.1 223.8L265.9 219.8L265.1 215.8L265 214.8ZM300.9 214.8L300.2 219.8L298.7 225.9L296.5 231.9L293.8 237.8L292.4 235.9L290.2 231.9L287.4 225.9L285.5 219.8L284.7 215.8L284.6 214.8ZM271.7 327.6L274.6 336.4L275.8 341.5L276.8 346.5L278 356.5L278.4 367.6L262.4 367.6L262.6 361.6L263.1 355.5L263.8 350.5L264.8 345.5L266.4 339.5L268.2 334.4L270.7 328.6ZM292.8 335.5L295.7 343.5L297.9 351.5L299.3 359.6L300 367.6L281.8 367.6L282.3 362.6L283 358.6L284 354.5L285.2 350.5L287.2 345.5L289 341.5L291.8 336.5Z"/>
<path fill="#0059ff" d="M267.7 214.8L279 214.8L278.2 218.8L276.6 223.8L273.7 229.9L272.7 230.7L271 226.9L269.5 222.8L268.4 218.8ZM287.8 214.8L298.5 214.8L297.9 218.8L296.8 223.8L295.6 227.9L293.8 232.5L291.8 228.9L289.8 223.8L288.4 218.8ZM271.7 333.5L273.8 341.5L275.2 349.5L276.1 357.5L276.4 367.6L265 367.6L265.5 357.5L266.8 348.5L267.9 343.5L269.4 338.4L270.7 334.6ZM292.8 341L294.8 347.5L296.4 354.5L297.3 360.6L297.8 367.6L284.9 367.6L285.7 360.6L287.4 353.5L288.7 349.5L290.3 345.5L291.8 342.2Z"/>
<path fill="#0026ff" d="M275.9 214.8L275.3 217.8L274.2 221.8L273.7 223.1L272.7 224.3L271.6 220.8L270.9 217.8L270.5 214.8ZM296 214.8L295.3 219.8L293.8 225.9L292.2 221.8L291.1 216.8L290.8 214.8ZM271.7 341L273 347.5L273.7 353.5L274.2 360.6L274.5 367.6L267.6 367.6L268 359.6L268.9 351.5L269.8 346.5L270.7 342.6ZM292.8 347.9L293.8 352.5L294.8 357.5L295.4 362.6L295.7 367.6L288.1 367.6L288.7 361.6L289.7 356.5L291.8 349.6Z"/>
<path fill="#0000ff" d="M271.7 353.5L272.3 360.6L272.5 367.6L270.2 367.6L270.7 357.4ZM292.8 358.5L293.6 367.6L291.2 367.6L291.8 362Z"/>
<path fill="#d9ff00" d="M360.8 214.8L360.8 367.6L327.5 367.6L326.8 365.6L326.6 357.5L325.8 355.5L325.6 347.5L324.8 345.5L324.6 340.5L323.8 338.4L323.6 333.4L322.8 331.4L322.6 329.4L321.8 327.4L321.6 324.4L320.8 322.4L320.6 320.4L319.8 318.3L319.6 316.3L314.2 305.3L313 303.3L309.8 300L308.8 299L306.1 297.2L303.8 295L298.8 291.7L297.8 291.3L296.7 291.2L294.8 290.3L293.7 290.2L289.5 288.2L287.8 286.9L284.1 283.2L283.3 282.2L283.3 281.1L283.7 279.9L286.8 275.4L287.8 274.6L288.9 274.1L299.8 274L301.8 273L305.8 270.4L307.1 269.1L308.8 267.9L309.6 267.1L310.2 266.1L313.8 258.7L315.7 256L316.6 254L316.8 249L317.6 247L317.8 242.9L318.6 240.9L318.8 236.9L319.6 234.9L319.8 230.9L320.6 228.9L320.8 225.9L321.6 223.8L321.8 220.8L322.6 218.8L322.8 216.8L323.6 214.8ZM217.7 249.5L218.7 249.3L219.7 250.7L220.7 253L220.8 254L221.2 255L221.9 256L222.7 256.8L225.7 256.9L227.7 256L228.7 255.9L230.7 255L233.7 254.6L234.7 255L236.5 258L237.7 259.2L238.7 259.8L241.7 258.6L242.7 258.6L243.4 259L244.7 260.8L247.5 265.1L250.7 268.4L252.5 271.1L254.7 273.3L255.7 273.8L256.7 273.6L261.7 271.1L262.6 272.1L262.9 274.1L263.7 276.1L263.9 279.1L264.7 281.1L264.7 284.2L263.9 286.2L263.7 288.2L262.9 290.2L262.7 291.2L261.3 294.2L260.9 295.2L260.7 296.2L259.7 297.9L258.4 299.2L252.7 303L250.4 305.3L247.7 307L238.5 316.3L236.7 319L235.7 319.6L234.7 319.4L232.7 318.5L231.7 318.3L229.7 317.5L228.7 317.5L227.7 318.1L226.5 319.3L224.7 322L223.7 322.8L222.7 322.8L217.7 319.5L216.7 319.5L215.9 320.4L215.2 321.4L213.2 325.4L212.8 326.4L212.7 327.4L211.7 329.1L210 330.4L208.7 330.8L208.7 256L209.7 255.9L210.7 255.3L213 253L215.7 251.3Z"/>
<path fill="#ffd800" d="M326 214.8L360.8 214.8L360.8 367.6L328.5 367.6L328.3 364.6L328.3 334.4L328.1 333.4L327.5 332.4L327.1 328.4L326.5 327.4L326.1 323.4L325.5 322.4L325.1 318.3L324.5 317.3L324.1 315.3L323.5 314.3L323.1 312.3L322.5 311.3L322.1 309.3L321.5 308.3L321.1 306.3L320.3 305.3L310.8 295.7L309.8 294.9L308.8 294.5L306.8 292.9L305.8 292.5L302.8 289.9L301.8 289.5L300.8 288.6L297.5 282.2L297.3 281.1L297.5 280.1L298.8 278.6L300.8 276.8L302.8 275.8L304.8 275.4L307.8 273.8L309.9 273.1L311.1 271.1L314.5 264.1L316.1 262L317.1 260L317.5 258L318.1 257L318.5 254L319.1 253L319.5 250L320.1 249L320.5 245L321.1 244L321.3 242.9L321.3 239.9L321.5 238.9L322.1 237.9L322.3 236.9L322.3 232.9L322.5 231.9L323.1 230.9L323.3 229.9L323.3 226.9L323.5 225.9L324.1 224.9L324.3 221.8L324.5 220.8L325.1 219.8L325.3 216.8ZM217.7 264.8L218.7 264.8L219.7 265.7L221 268.1L222.4 271.1L223.7 272.6L224.7 273.4L226.7 273.8L227.7 274.4L229.7 274.6L230.7 274.4L234.7 270.6L235.7 270.1L238.7 270.8L239.7 271.4L241.7 271.8L242.7 272.4L244.7 272.8L245.7 273.4L247.7 273.8L249.7 274.9L250.4 276.1L252 278.1L253 280.1L253.2 281.1L253.2 289.2L253 291.2L251.7 293.6L247.7 297.7L246.7 298.5L244.7 299.5L241.7 299.9L240.7 300.6L238.7 300.9L237.7 301.6L236.7 301.7L234.7 301.6L229.7 299L228.7 299L227.4 300.2L223 309.3L221.7 311L220.7 310.7L219.4 309.3L218 306.3L216.4 304.3L216 303.3L214.7 302L213.7 301.8L212.7 302L208.7 305.5L208.7 269.6L209.7 269.4L213.7 267.4L215.7 265.8Z"/>
<path fill="#ffa600" d="M337 214.8L360.8 214.8L360.8 367.6L333.3 367.6L333.5 366.6L335.5 362.6L339.8 357.9L340.5 356.5L342.1 354.5L342.3 353.5L342.3 345.5L342.1 344.5L341.5 343.5L341.1 341.5L335.5 330.4L335.1 328.4L334.5 327.4L334.1 324.4L333.5 323.4L333.1 321.4L332.5 320.4L332.1 317.3L331.5 316.3L331.1 313.3L330.5 312.3L330.3 311.3L330.3 307.3L330.1 306.3L329.5 305.3L329.3 304.3L329.3 300.2L329.1 299.2L328 297.2L325.8 295.7L320.8 290.9L319.8 290.5L317.8 288.9L316.8 288.5L314.8 286.9L311.8 285.5L309.8 283.8L308.7 283.2L308.5 282.2L309.3 281.1L311.8 278.5L312.5 277.1L313.3 276.1L318.1 271.1L319.1 269.1L319.5 267.1L322.1 262L322.5 260L324.1 257L324.5 253L325.1 252L325.3 251L325.3 248L325.5 247L326.1 246L326.3 245L326.3 241.9L326.5 240.9L327.1 239.9L327.5 237.9L328.1 236.9L328.5 233.9L329.1 232.9L329.5 230.9L330.1 229.9L330.5 226.9L333.5 220.8L335.1 218.8Z"/>
<path fill="#ff7200" d="M360.8 214.8L360.8 367.6L356.1 367.6L355.5 366.6L355.3 365.6L355.3 358.6L355.1 357.5L354.5 356.5L354.3 355.5L354.3 348.5L354.1 347.5L353.5 346.5L353.3 345.5L353.3 338.4L353.1 337.4L352.5 336.4L352.3 335.4L352.3 328.4L352.1 327.4L351.5 326.4L351.3 325.4L351.3 320.4L351.1 319.3L350.5 318.3L350.1 315.3L349.5 314.3L349.1 311.3L348.5 310.3L348.1 308.3L347.5 307.3L347.1 304.3L346 302.3L343.8 300.7L340.2 297.2L338.8 296.4L337.5 294.2L337.1 293.2L333.5 286.2L333.3 285.2L333.3 280.1L333.1 279.1L332.5 278.1L332.3 276.1L332.3 267.1L332.5 265.1L333.1 264.1L333.3 261L333.5 260L334.1 259L334.5 256L335.5 254L336.8 252.5L337.8 251.7L338.8 251.3L339.8 250.5L340.8 250L341.8 250.5L343.8 252.2L344.8 252.1L345.5 250L346.1 249L346.6 246L347.6 245L347.8 244.4L348.4 247L349.1 248L349.5 252L350.1 253L350.4 254L350.4 257L350.8 258L351.8 258L352.2 257L352.2 255L352.4 254L353.1 253L353.5 250L354.1 249L354.5 246L355.1 245L355.5 241.9L356.1 240.9L356.3 239.9L356.3 220.8L356.5 219.8L357.1 218.8L357.3 217.8L357.3 214.8Z"/>
<text class="t" transform="translate(204.30 370.50) scale(0.740 1)" text-anchor="end">0</text>
<text class="t" transform="translate(204.30 336.54) scale(0.740 1)" text-anchor="end">40</text>
<text class="t" transform="translate(204.30 302.59) scale(0.740 1)" text-anchor="end">80</text>
<text class="t" transform="translate(204.30 268.63) scale(0.740 1)" text-anchor="end">120</text>
<text class="t" transform="translate(204.30 234.68) scale(0.740 1)" text-anchor="end">160</text>
<text class="t" transform="translate(225.82 377.10) scale(0.740 1)" text-anchor="middle">0.5</text>
<text class="t" transform="translate(249.30 377.10) scale(0.740 1)" text-anchor="middle">1</text>
<text class="t" transform="translate(303.82 377.10) scale(0.740 1)" text-anchor="middle">5</text>
<text class="t" transform="translate(327.30 377.10) scale(0.740 1)" text-anchor="middle">10</text>
<g stroke="#444" stroke-width="0.5"><line x1="206.30" y1="367.60" x2="208.70" y2="367.60"/><line x1="207.40" y1="359.11" x2="208.70" y2="359.11"/><line x1="207.40" y1="350.62" x2="208.70" y2="350.62"/><line x1="207.40" y1="342.13" x2="208.70" y2="342.13"/><line x1="206.30" y1="333.64" x2="208.70" y2="333.64"/><line x1="207.40" y1="325.16" x2="208.70" y2="325.16"/><line x1="207.40" y1="316.67" x2="208.70" y2="316.67"/><line x1="207.40" y1="308.18" x2="208.70" y2="308.18"/><line x1="206.30" y1="299.69" x2="208.70" y2="299.69"/><line x1="207.40" y1="291.20" x2="208.70" y2="291.20"/><line x1="207.40" y1="282.71" x2="208.70" y2="282.71"/><line x1="207.40" y1="274.22" x2="208.70" y2="274.22"/><line x1="206.30" y1="265.73" x2="208.70" y2="265.73"/><line x1="207.40" y1="257.24" x2="208.70" y2="257.24"/><line x1="207.40" y1="248.76" x2="208.70" y2="248.76"/><line x1="207.40" y1="240.27" x2="208.70" y2="240.27"/><line x1="206.30" y1="231.78" x2="208.70" y2="231.78"/><line x1="207.40" y1="223.29" x2="208.70" y2="223.29"/><line x1="217.96" y1="367.60" x2="217.96" y2="368.90"/><line x1="225.52" y1="367.60" x2="225.52" y2="370.00"/><line x1="231.70" y1="367.60" x2="231.70" y2="368.90"/><line x1="236.92" y1="367.60" x2="236.92" y2="368.90"/><line x1="241.44" y1="367.60" x2="241.44" y2="368.90"/><line x1="245.43" y1="367.60" x2="245.43" y2="368.90"/><line x1="249.00" y1="367.60" x2="249.00" y2="370.00"/><line x1="272.48" y1="367.60" x2="272.48" y2="368.90"/><line x1="286.22" y1="367.60" x2="286.22" y2="368.90"/><line x1="295.96" y1="367.60" x2="295.96" y2="368.90"/><line x1="303.52" y1="367.60" x2="303.52" y2="370.00"/><line x1="309.70" y1="367.60" x2="309.70" y2="368.90"/><line x1="314.92" y1="367.60" x2="314.92" y2="368.90"/><line x1="319.44" y1="367.60" x2="319.44" y2="368.90"/><line x1="323.43" y1="367.60" x2="323.43" y2="368.90"/><line x1="327.00" y1="367.60" x2="327.00" y2="370.00"/><line x1="350.48" y1="367.60" x2="350.48" y2="368.90"/></g>
<text class="t" transform="translate(284.55 385.00) scale(0.760 1)" text-anchor="middle">Frequency (Hz)</text>
<text class="t" transform="translate(192.80 291.90) rotate(-90) scale(0.750 1)" text-anchor="middle">Azimuth (deg.)</text>
<text class="ttl" x="358.20" y="233.00" text-anchor="end" textLength="36.0" lengthAdjust="spacingAndGlyphs">PUJ-27</text>
<rect x="196.50" y="390.20" width="5.20" height="11.90" fill="#ff0000"/>
<rect x="201.40" y="390.20" width="8.84" height="11.90" fill="#ff3300"/>
<rect x="209.94" y="390.20" width="8.84" height="11.90" fill="#ff7200"/>
<rect x="218.48" y="390.20" width="8.84" height="11.90" fill="#ffa600"/>
<rect x="227.02" y="390.20" width="8.84" height="11.90" fill="#ffd800"/>
<rect x="235.56" y="390.20" width="8.84" height="11.90" fill="#d9ff00"/>
<rect x="244.09" y="390.20" width="8.84" height="11.90" fill="#00ff00"/>
<rect x="252.63" y="390.20" width="8.84" height="11.90" fill="#00ff00"/>
<rect x="261.17" y="390.20" width="8.84" height="11.90" fill="#00ff00"/>
<rect x="269.71" y="390.20" width="8.84" height="11.90" fill="#00ff00"/>
<rect x="278.25" y="390.20" width="8.84" height="11.90" fill="#00ff00"/>
<rect x="286.79" y="390.20" width="8.84" height="11.90" fill="#00ff00"/>
<rect x="295.33" y="390.20" width="8.84" height="11.90" fill="#00ff80"/>
<rect x="303.87" y="390.20" width="8.84" height="11.90" fill="#00ffc4"/>
<rect x="312.41" y="390.20" width="8.84" height="11.90" fill="#00ffff"/>
<rect x="320.94" y="390.20" width="8.84" height="11.90" fill="#00bfff"/>
<rect x="329.48" y="390.20" width="8.84" height="11.90" fill="#008cff"/>
<rect x="338.02" y="390.20" width="8.84" height="11.90" fill="#0059ff"/>
<rect x="346.56" y="390.20" width="8.84" height="11.90" fill="#0026ff"/>
<rect x="355.10" y="390.20" width="4.40" height="11.90" fill="#0000ff"/>
<g stroke="#444" stroke-width="0.5"><line x1="201.00" y1="402.10" x2="201.00" y2="404.50"/><line x1="207.68" y1="402.10" x2="207.68" y2="403.40"/><line x1="214.36" y1="402.10" x2="214.36" y2="403.40"/><line x1="221.04" y1="402.10" x2="221.04" y2="403.40"/><line x1="227.72" y1="402.10" x2="227.72" y2="403.40"/><line x1="234.40" y1="402.10" x2="234.40" y2="404.50"/><line x1="241.08" y1="402.10" x2="241.08" y2="403.40"/><line x1="247.76" y1="402.10" x2="247.76" y2="403.40"/><line x1="254.44" y1="402.10" x2="254.44" y2="403.40"/><line x1="261.12" y1="402.10" x2="261.12" y2="403.40"/><line x1="267.80" y1="402.10" x2="267.80" y2="404.50"/><line x1="274.48" y1="402.10" x2="274.48" y2="403.40"/><line x1="281.16" y1="402.10" x2="281.16" y2="403.40"/><line x1="287.84" y1="402.10" x2="287.84" y2="403.40"/><line x1="294.52" y1="402.10" x2="294.52" y2="403.40"/><line x1="301.20" y1="402.10" x2="301.20" y2="404.50"/><line x1="307.88" y1="402.10" x2="307.88" y2="403.40"/><line x1="314.56" y1="402.10" x2="314.56" y2="403.40"/><line x1="321.24" y1="402.10" x2="321.24" y2="403.40"/><line x1="327.92" y1="402.10" x2="327.92" y2="403.40"/><line x1="334.60" y1="402.10" x2="334.60" y2="404.50"/><line x1="341.28" y1="402.10" x2="341.28" y2="403.40"/><line x1="347.96" y1="402.10" x2="347.96" y2="403.40"/><line x1="354.64" y1="402.10" x2="354.64" y2="403.40"/></g>
<text class="t" transform="translate(201.90 411.40) scale(0.740 1)" text-anchor="middle">0</text>
<text class="t" transform="translate(235.30 411.40) scale(0.740 1)" text-anchor="middle">2</text>
<text class="t" transform="translate(268.70 411.40) scale(0.740 1)" text-anchor="middle">4</text>
<text class="t" transform="translate(302.10 411.40) scale(0.740 1)" text-anchor="middle">6</text>
<text class="t" transform="translate(335.50 411.40) scale(0.740 1)" text-anchor="middle">8</text>
<text class="t" transform="translate(278.60 419.60) scale(0.800 1)" text-anchor="middle">H/V</text>
</g>
<g id="p6">
<rect x="394.2" y="214.2" width="151.3" height="152.8" fill="#00ff00"/>
<path fill="none" stroke="#5cff3a" stroke-opacity="0.4" stroke-width="0.45" d="M440.1 214.2L440.9 285.6L441 367M517.8 214.2L520.8 245.4L521.8 267.5L522 289.6L521.3 311.7L519.7 332.8L517.4 352.9L515.1 367M444.5 367L443.6 276.5L444.2 214.2M439.5 214.2L438.8 255.4L439.3 263.4L439.8 289.6L440.5 367M507.7 214.2L510.5 232.3L512.4 252.4L513.3 272.5L513.2 293.6L512.1 314.7L510.2 333.8L507.4 351.1L503.7 367M394.2 307.8L396.2 305.1L397.5 297.6L397.2 295.4L394.2 296.1M446.6 367L445.9 291.6L446.3 214.2M421.3 277.4L420.3 278.7L420.2 280.5L421.3 306.7L422.4 283.6L422.3 279.8L421.3 277.4M436.3 278.5L435.3 278.6L434.3 289.8L434.3 293L435.3 302.4L436.5 289.6L436.3 278.5M403.2 286.3L402.6 292.6L402.6 296.6L403.2 298.4L404.2 296.8L405.1 291.6L404.2 288L403.2 286.3M438.9 214.2L437.3 273.9L436.3 259.9L435.3 261.4L434.3 266.7L433 288.6L434.1 311.7L435.3 318.1L436.6 311.7L438.3 297L439.3 314.8L439.9 367M466.7 214.2L467.3 224.5L470.4 214.2M495.6 214.2L498.9 225.3L501.4 238.1L503.3 252.4L504.4 268.5L504.7 285.6L504.1 301.7L502.6 317.7L500.4 331.6L497.4 344.2L493.4 355L489.4 361.5L487.4 363.5L484.4 365L481.4 364.9L479.4 364L477.4 362.3L475.4 359.8L471.3 351.9L467.3 339.5L466.7 348.9L466.3 367M394.2 316.3L396.2 314.6L397.3 311.7L398.5 304.7L399.2 296.6L400.2 298.5L400.9 304.7L402.2 310.3L403.2 311.9L404.2 312.4L405.2 311.6L406.5 300.7L407 292.6L405.6 276.5L405.2 274.6L404.2 273.3L403.2 273.1L402.9 274.5L401.2 291.6L400.2 295.9L398.3 284.6L397.2 281.9L394.2 284M448.7 367L447.7 282.6L448.4 214.2M420.3 261.2L419 269.5L418.2 286.4L417.2 288L415.2 284.8L414.2 284.3L411.2 290.5L410 294.6L409.8 305.7L410.2 311.1L411.2 317.1L412.9 289.6L413.2 288.9L415.2 292.2L416.2 292.9L418.2 289.7L419.2 290.7L419.9 305.7L421.3 321.1L422.6 307.7L423.3 292.4L424.3 291.6L425.3 293.9L426.3 293.4L428.1 286.6L427.3 284.6L426.3 285.3L425.3 287.2L424.3 287.1L423.6 275.5L422.3 261.5L421.3 260.8L420.3 261.2"/>
<path fill="#00ff80" d="M438.3 214.2L437.1 236.3L436.6 240.3L435.3 244.2L434.1 243.4L433.3 241L431.3 237.3L430.3 236.5L429.3 237.5L428.3 236.4L427.3 234.6L426.3 235.3L424.3 239.3L423.3 241.9L421.3 244.3L420.3 243.7L419.2 242.3L418.7 241.3L418.2 239.9L417.2 238L415.2 234.8L414.2 234.3L411.2 240.5L410.2 243.1L407.2 251.7L406.6 254.4L405.7 256.4L403.2 259.9L402.5 260.4L401.2 261.9L400.2 262.3L399.1 265.5L398.2 267.2L394.2 271.9L394.2 214.2ZM464.5 214.2L464.7 227.3L466 257.4L466.3 281.6L465.7 309.7L464.8 330.8L464 367L451 367L450.2 327.8L449.8 322.8L449 299.6L448.7 277.5L449.1 253.4L449.8 235.3L450.2 230.3L450.5 214.2ZM482.4 232.1L483.4 232.1L484.4 232.4L485.4 232.9L487.4 235L488.4 236.6L489.7 239.3L491.8 245.4L493.5 252.4L494.9 261.4L495.7 270.5L496 280.5L495.8 290.6L495.2 299.6L494 308.7L492.4 316.5L490.4 323.1L488.4 327.4L486.4 330.2L485.4 331.1L484.4 331.6L483.4 331.9L482.4 331.9L481.4 331.5L480.4 330.9L478.4 328.6L476.4 324.9L474.2 318.7L472.4 310.7L471.2 302.7L470.3 293.6L470 283.6L470.2 273.5L470.8 264.5L471.8 256.4L473.4 248.5L475.4 241.6L477.4 237L479.4 234.1L480.4 233.1L481.4 232.5ZM396.2 324.1L397.2 324.2L398.2 324.8L400.2 327.5L401.1 325.8L402.2 324.5L403.2 325.3L405.9 332.8L407.2 337.8L408.2 336.9L409.5 334.8L410.2 334.1L411.2 334L412.1 334.8L415.2 342.2L416.2 342.9L418.2 339.7L419.7 336.8L420.3 336.1L421.3 335.6L422.3 336.3L422.6 336.8L424.3 341.6L425.3 343.9L426.3 343.4L429.3 332.5L430.3 330.5L433.3 335.1L434.3 334L435.3 333.9L436.3 334.7L437.3 336.8L438.1 342.9L439.3 367L394.2 367L394.2 324.8Z"/>
<path fill="#00ffc4" d="M406.9 214.2L405.8 234.3L405.2 239.6L404.2 244L403.2 246.7L402 240.3L401.2 232.1L400.2 228.7L398.8 245.4L398 251.4L397.2 254.9L395.8 257.4L394.2 259.9L394.2 214.2ZM423.1 214.2L422.3 224.8L421.3 227.7L420.3 226.1L420.1 225.3L419.2 217.6L419 214.2ZM436.8 214.2L436.3 222.8L435.3 227L434.3 220.5L433.9 214.2ZM462.3 214.2L462.4 218.2L463.5 229.3L464.5 243.4L465.1 256.4L465.3 269.5L465.4 283.6L465.2 296.6L464.2 319.8L463.4 330.8L462.4 339.9L461.5 367L453.5 367L452.5 338.9L451.3 327L450.5 314.7L449.9 301.7L449.6 287.6L449.6 272.5L449.9 258.4L450.4 244.4L451.3 231.3L452.5 219.2L452.7 214.2ZM482.4 240.9L483.4 240.8L484.4 241.5L485.5 243.4L486 245.4L486.8 249.4L487.3 260.4L487.4 287.6L487.3 300.7L487 309.7L486.7 311.7L485.4 316.7L484.4 318.5L483.4 319.2L482.4 319.1L481.4 318.2L480.2 315.7L479.9 314.7L479 309.7L478.8 307.7L478.5 294.6L478.4 273.5L478.7 257.4L478.9 251.4L480.2 244.4L481.4 241.8ZM396.2 333.6L397.2 336.2L397.9 339.9L398.4 344.9L399.2 355.9L400.2 356.5L400.9 347.9L401.8 340.9L402.2 338.7L403.2 338.7L404.3 343.9L405.1 349.9L405.8 356.9L406.4 367L394.2 367L394.2 333.2ZM435.3 349.6L436.3 355.9L437.2 367L433.6 367L434.3 354.5ZM411.2 350.8L411.8 358L412.1 367L409.7 367L410.2 357.2ZM421.3 350L421.9 355.9L422.7 367L419.9 367L420.6 355.9Z"/>
<path fill="#00ffff" d="M399.3 214.2L398.4 231.3L397.4 240.3L397.2 241.5L396.2 244L394.2 247.8L394.2 214.2ZM405.7 214.2L405 224.3L404.2 229.4L403.2 233.6L402.5 226.3L401.7 215.2L401.7 214.2ZM455.3 214.2L459.8 214.2L460.3 216.2L461.3 221.5L462.3 229.3L463.4 241.3L464.1 255.4L464.5 269.5L464.5 282.6L464.3 295.6L463.8 308.7L463.1 319.8L462.3 328.8L461.6 334.8L459.6 344.9L459.3 349.6L458.3 358.6L457.3 360.7L456.3 356.3L455.4 344.9L454.3 340.1L453.4 334.8L452.3 325.3L451.1 307.7L450.5 287.6L450.6 264.5L451.6 242.3L452.3 232.7L453.3 223.9L454.3 217.9ZM482.4 243L483.4 242.9L484.4 243.8L485.4 246.4L486 249.4L486.3 252.4L486.6 260.4L486.7 291.6L486.5 305.7L486.1 309.7L485.4 313.8L484.4 316.2L483.4 317.1L482.4 317L481.4 315.8L480.4 312.8L479.6 306.7L479.3 298.6L479.3 266.5L479.5 254.4L479.9 250.4L480.4 247.2L481.4 244.2ZM396.2 343.2L397.2 347.9L397.8 354.9L398.6 367L394.2 367L394.2 341.7ZM402.2 352.9L403.2 352.1L404.2 359.1L405 367L401 367ZM421.3 364.4L421.4 367L421.1 367ZM435.3 365.4L435.5 367L435.1 367Z"/>
<path fill="#00bfff" d="M398.3 214.2L397.2 228L396.2 231.1L394.2 235.7L394.2 214.2ZM404.3 214.2L403.2 220.4L402.8 214.2ZM457.3 219L458.3 219.5L459.3 221.7L460.3 225.7L461.7 235.3L462.5 244.4L463.2 255.4L463.5 266.5L463.6 278.5L463.5 290.6L463.2 301.7L462.6 312.7L461.8 321.8L460.6 330.8L459.4 335.8L458.3 338.5L457.3 339L456.3 337.9L455.3 335.1L454.3 330.4L453.2 321.8L452.3 311.7L451.8 301.7L451.5 290.6L451.4 278.5L451.5 266.5L451.8 255.4L452.3 246.4L453.2 236.3L454.3 227.6L455.3 222.9L456.3 220.1ZM483.4 245.3L484.4 246.5L484.7 247.4L485.4 250.4L485.7 253.4L486 261.4L486.1 279.5L486 298.6L485.7 306.7L485.4 309.6L484.9 311.7L484.4 313.5L483.4 314.7L482.4 314.6L481.4 312.8L480.8 310.7L480.4 307.6L480 298.6L479.9 279.5L480 260.4L480.4 252.4L480.8 249.4L481.4 247.2L482.4 245.4ZM395 350.9L396.2 352.7L397.2 360.1L397.7 367L394.2 367L394.2 350.2ZM403.2 365.6L403.4 367L402.3 367Z"/>
<path fill="#008cff" d="M397.2 214.2L396.2 218.2L394.2 223.6L394.2 214.2ZM457.3 227.6L458.3 228.2L459.3 230.8L460.3 235.6L461.3 243.4L462.4 259.4L462.8 278.5L462.4 298.6L461.3 314.7L460.3 322.4L459.3 327.2L458.3 329.8L457.3 330.4L456.3 329.1L455.3 325.8L454.3 320L453.6 313.7L452.6 297.6L452.2 278.5L452.6 259.4L453.7 243.4L454.3 238L455.3 232.2L456.3 228.9ZM482.4 248.2L483.4 248L484.5 250.4L485.2 255.4L485.4 261.4L485.3 301.7L485.1 305.7L484.7 308.7L484.4 310.1L483.4 312L482.4 311.8L481.4 309L480.8 304.7L480.6 297.6L480.7 258.4L481.3 251.4ZM395.2 360L396.2 362.2L396.7 367L394.2 367L394.2 358.7Z"/>
<path fill="#0059ff" d="M457.3 236.2L458.3 236.9L459.3 240L460.5 247.4L461.5 261.4L461.9 278.5L461.5 296.6L460.4 310.7L459.3 318L458.3 321.1L457.3 321.8L456.3 320.3L455.4 316.7L454.3 308.6L453.4 294.6L453.1 278.5L453.4 263.5L454.3 249.4L455.4 241.3L456.3 237.7ZM483.4 251.2L484.3 254.4L484.7 258.4L484.8 279.5L484.7 301.7L484.3 305.7L483.4 308.8L482.4 308.4L481.8 305.7L481.4 302.7L481.2 295.6L481.2 279.5L481.2 264.5L481.4 257.4L481.7 254.4L482.4 251.6Z"/>
<path fill="#0026ff" d="M457.3 244.8L458.3 245.7L458.5 246.4L459.3 249.7L459.9 254.4L460.7 265.5L461 278.5L460.8 291.6L460 302.7L459.3 308.3L458.8 310.7L458.3 312.3L457.3 313.2L456.3 311.3L455.3 305.9L455 302.7L454.2 291.6L454 278.5L454.3 265.5L455 255.4L455.3 252.1L456.3 246.7ZM483.4 255.3L483.9 258.4L484.1 262.5L484.2 279.5L484.1 297.6L483.9 301.7L483.4 304.7L482.4 303.8L482 299.6L481.8 279.5L481.8 265.5L482 259.4L482.4 256.2Z"/>
<path fill="#0000ff" d="M457.3 253.3L458.3 254.6L459.3 260.5L459.9 269.5L460.1 278.5L459.9 288.6L459.3 297.5L458.3 303.4L457.3 304.7L456.3 302L455.5 295.6L455 287.6L454.9 278.5L455.1 269.5L455.5 262.5L456.3 256ZM483.4 262L483.6 267.5L483.6 279.5L483.6 292.6L483.4 298L482.8 295.6L482.5 292.6L482.4 279.5L482.5 267.5L482.8 264.5Z"/>
<text class="t" transform="translate(389.80 369.90) scale(0.740 1)" text-anchor="end">0</text>
<text class="t" transform="translate(389.80 335.94) scale(0.740 1)" text-anchor="end">40</text>
<text class="t" transform="translate(389.80 301.99) scale(0.740 1)" text-anchor="end">80</text>
<text class="t" transform="translate(389.80 268.03) scale(0.740 1)" text-anchor="end">120</text>
<text class="t" transform="translate(389.80 234.08) scale(0.740 1)" text-anchor="end">160</text>
<text class="t" transform="translate(410.82 376.50) scale(0.740 1)" text-anchor="middle">0.5</text>
<text class="t" transform="translate(434.30 376.50) scale(0.740 1)" text-anchor="middle">1</text>
<text class="t" transform="translate(488.82 376.50) scale(0.740 1)" text-anchor="middle">5</text>
<text class="t" transform="translate(512.30 376.50) scale(0.740 1)" text-anchor="middle">10</text>
<g stroke="#444" stroke-width="0.5"><line x1="391.80" y1="367.00" x2="394.20" y2="367.00"/><line x1="392.90" y1="358.51" x2="394.20" y2="358.51"/><line x1="392.90" y1="350.02" x2="394.20" y2="350.02"/><line x1="392.90" y1="341.53" x2="394.20" y2="341.53"/><line x1="391.80" y1="333.04" x2="394.20" y2="333.04"/><line x1="392.90" y1="324.56" x2="394.20" y2="324.56"/><line x1="392.90" y1="316.07" x2="394.20" y2="316.07"/><line x1="392.90" y1="307.58" x2="394.20" y2="307.58"/><line x1="391.80" y1="299.09" x2="394.20" y2="299.09"/><line x1="392.90" y1="290.60" x2="394.20" y2="290.60"/><line x1="392.90" y1="282.11" x2="394.20" y2="282.11"/><line x1="392.90" y1="273.62" x2="394.20" y2="273.62"/><line x1="391.80" y1="265.13" x2="394.20" y2="265.13"/><line x1="392.90" y1="256.64" x2="394.20" y2="256.64"/><line x1="392.90" y1="248.16" x2="394.20" y2="248.16"/><line x1="392.90" y1="239.67" x2="394.20" y2="239.67"/><line x1="391.80" y1="231.18" x2="394.20" y2="231.18"/><line x1="392.90" y1="222.69" x2="394.20" y2="222.69"/><line x1="402.96" y1="367.00" x2="402.96" y2="368.30"/><line x1="410.52" y1="367.00" x2="410.52" y2="369.40"/><line x1="416.70" y1="367.00" x2="416.70" y2="368.30"/><line x1="421.92" y1="367.00" x2="421.92" y2="368.30"/><line x1="426.44" y1="367.00" x2="426.44" y2="368.30"/><line x1="430.43" y1="367.00" x2="430.43" y2="368.30"/><line x1="434.00" y1="367.00" x2="434.00" y2="369.40"/><line x1="457.48" y1="367.00" x2="457.48" y2="368.30"/><line x1="471.22" y1="367.00" x2="471.22" y2="368.30"/><line x1="480.96" y1="367.00" x2="480.96" y2="368.30"/><line x1="488.52" y1="367.00" x2="488.52" y2="369.40"/><line x1="494.70" y1="367.00" x2="494.70" y2="368.30"/><line x1="499.92" y1="367.00" x2="499.92" y2="368.30"/><line x1="504.44" y1="367.00" x2="504.44" y2="368.30"/><line x1="508.43" y1="367.00" x2="508.43" y2="368.30"/><line x1="512.00" y1="367.00" x2="512.00" y2="369.40"/><line x1="535.48" y1="367.00" x2="535.48" y2="368.30"/></g>
<text class="t" transform="translate(469.65 384.40) scale(0.760 1)" text-anchor="middle">Frequency (Hz)</text>
<text class="t" transform="translate(378.30 291.30) rotate(-90) scale(0.750 1)" text-anchor="middle">Azimuth (deg.)</text>
<text class="ttl" x="544.50" y="233.80" text-anchor="end" textLength="35.8" lengthAdjust="spacingAndGlyphs">PUJ-39</text>
<rect x="382.70" y="390.00" width="5.20" height="12.00" fill="#ff0000"/>
<rect x="387.60" y="390.00" width="8.83" height="12.00" fill="#ff3300"/>
<rect x="396.13" y="390.00" width="8.83" height="12.00" fill="#ff7200"/>
<rect x="404.66" y="390.00" width="8.83" height="12.00" fill="#ffa600"/>
<rect x="413.18" y="390.00" width="8.83" height="12.00" fill="#ffd800"/>
<rect x="421.71" y="390.00" width="8.83" height="12.00" fill="#d9ff00"/>
<rect x="430.24" y="390.00" width="8.83" height="12.00" fill="#00ff00"/>
<rect x="438.77" y="390.00" width="8.83" height="12.00" fill="#00ff00"/>
<rect x="447.29" y="390.00" width="8.83" height="12.00" fill="#00ff00"/>
<rect x="455.82" y="390.00" width="8.83" height="12.00" fill="#00ff00"/>
<rect x="464.35" y="390.00" width="8.83" height="12.00" fill="#00ff00"/>
<rect x="472.88" y="390.00" width="8.83" height="12.00" fill="#00ff00"/>
<rect x="481.41" y="390.00" width="8.83" height="12.00" fill="#00ff80"/>
<rect x="489.93" y="390.00" width="8.83" height="12.00" fill="#00ffc4"/>
<rect x="498.46" y="390.00" width="8.83" height="12.00" fill="#00ffff"/>
<rect x="506.99" y="390.00" width="8.83" height="12.00" fill="#00bfff"/>
<rect x="515.52" y="390.00" width="8.83" height="12.00" fill="#008cff"/>
<rect x="524.04" y="390.00" width="8.83" height="12.00" fill="#0059ff"/>
<rect x="532.57" y="390.00" width="8.83" height="12.00" fill="#0026ff"/>
<rect x="541.10" y="390.00" width="4.40" height="12.00" fill="#0000ff"/>
<g stroke="#444" stroke-width="0.5"><line x1="387.20" y1="402.00" x2="387.20" y2="404.40"/><line x1="395.80" y1="402.00" x2="395.80" y2="403.30"/><line x1="404.40" y1="402.00" x2="404.40" y2="403.30"/><line x1="413.00" y1="402.00" x2="413.00" y2="403.30"/><line x1="421.60" y1="402.00" x2="421.60" y2="403.30"/><line x1="430.20" y1="402.00" x2="430.20" y2="404.40"/><line x1="438.80" y1="402.00" x2="438.80" y2="403.30"/><line x1="447.40" y1="402.00" x2="447.40" y2="403.30"/><line x1="456.00" y1="402.00" x2="456.00" y2="403.30"/><line x1="464.60" y1="402.00" x2="464.60" y2="403.30"/><line x1="473.20" y1="402.00" x2="473.20" y2="404.40"/><line x1="481.80" y1="402.00" x2="481.80" y2="403.30"/><line x1="490.40" y1="402.00" x2="490.40" y2="403.30"/><line x1="499.00" y1="402.00" x2="499.00" y2="403.30"/><line x1="507.60" y1="402.00" x2="507.60" y2="403.30"/><line x1="516.20" y1="402.00" x2="516.20" y2="404.40"/><line x1="524.80" y1="402.00" x2="524.80" y2="403.30"/><line x1="533.40" y1="402.00" x2="533.40" y2="403.30"/><line x1="542.00" y1="402.00" x2="542.00" y2="403.30"/></g>
<text class="t" transform="translate(388.10 411.30) scale(0.740 1)" text-anchor="middle">0</text>
<text class="t" transform="translate(431.10 411.30) scale(0.740 1)" text-anchor="middle">1</text>
<text class="t" transform="translate(474.10 411.30) scale(0.740 1)" text-anchor="middle">2</text>
<text class="t" transform="translate(517.10 411.30) scale(0.740 1)" text-anchor="middle">3</text>
<text class="t" transform="translate(464.70 419.50) scale(0.800 1)" text-anchor="middle">H/V</text>
</g>
</svg>
</body></html>
